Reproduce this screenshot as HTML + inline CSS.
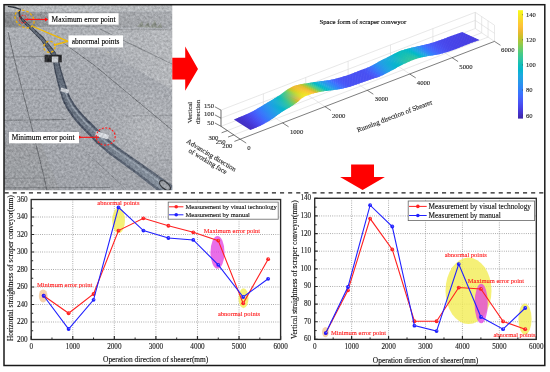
<!DOCTYPE html><html><head><meta charset="utf-8"><title>Scraper conveyor</title><style>html,body{margin:0;padding:0;background:#fff;}svg{display:block;}</style></head><body><svg width="550" height="372" viewBox="0 0 550 372" style="font-family:'Liberation Serif','Times New Roman',serif">
<rect width="550" height="372" fill="#fff"/>
<g>
<defs>
<clipPath id="pc"><rect x="4" y="4" width="168.3" height="186.3"/></clipPath>
<linearGradient id="pg" x1="0" y1="0" x2="0" y2="1"><stop offset="0" stop-color="#b3b6bb"/><stop offset="0.1" stop-color="#acafb4"/><stop offset="0.35" stop-color="#a6a9af"/><stop offset="1" stop-color="#a0a3a9"/></linearGradient>
<filter id="nz" x="0" y="0" width="100%" height="100%" color-interpolation-filters="sRGB"><feTurbulence type="fractalNoise" baseFrequency="0.42" numOctaves="3" seed="7" result="t"/><feColorMatrix in="t" type="matrix" values="1 0 0 0 0  1 0 0 0 0  1 0 0 0 0  0 0 0 0 1" result="g"/><feComposite in="SourceGraphic" in2="g" operator="arithmetic" k1="0" k2="1" k3="0.26" k4="-0.13"/></filter>
</defs>
<g clip-path="url(#pc)">
<g filter="url(#nz)">
<rect x="4" y="4" width="168.3" height="187" fill="url(#pg)"/>
<defs><linearGradient id="band1" x1="0" y1="0" x2="1" y2="0"><stop offset="0" stop-color="#86888b" stop-opacity="0.9"/><stop offset="0.45" stop-color="#8e9093" stop-opacity="0.6"/><stop offset="1" stop-color="#9a9c9f" stop-opacity="0.3"/></linearGradient><linearGradient id="rlt" x1="0" y1="0" x2="1" y2="0"><stop offset="0" stop-color="#b8babd" stop-opacity="0"/><stop offset="1" stop-color="#bcbec1" stop-opacity="0.7"/></linearGradient></defs>
<rect x="4" y="4" width="168.3" height="7" fill="#b9bbbe" opacity="0.8"/>
<path d="M4,12 H172.3 V27 H4 Z" fill="url(#band1)"/>
<path d="M4,20 H40 L36,28 H4 Z" fill="#7e8083" opacity="0.35"/>
<path d="M60,29 H172.3 V90 L120,60 Z" fill="url(#rlt)"/>
<path d="M4,140 L4,191 H60 L40,140 Z" fill="#97999c" opacity="0.5"/>
<defs><radialGradient id="lr" cx="150" cy="130" r="50" gradientUnits="userSpaceOnUse"><stop offset="0" stop-color="#c0c2c5" stop-opacity="0.55"/><stop offset="1" stop-color="#c0c2c5" stop-opacity="0"/></radialGradient></defs>
<rect x="90" y="75" width="83" height="117" fill="url(#lr)"/>
<polyline points="8,32 17,70 30,120 44,177 47,191" fill="none" stroke="#55585c" stroke-width="0.8" opacity="0.9"/>
<polyline points="4,57 48,56.5" fill="none" stroke="#55585c" stroke-width="0.8" opacity="0.5"/>
<polyline points="4,90 52,89.5" fill="none" stroke="#55585c" stroke-width="0.8" opacity="0.35"/>
<polyline points="4,120.3 66,119.5" fill="none" stroke="#55585c" stroke-width="0.8" opacity="0.7"/>
<polyline points="4,178.5 50,178" fill="none" stroke="#55585c" stroke-width="0.8" opacity="0.35"/>
<polyline points="62,42 95,65.8 172,130" fill="none" stroke="#55585c" stroke-width="0.8" opacity="0.85"/>
<polyline points="123,116 172,115.5" fill="none" stroke="#55585c" stroke-width="0.8" opacity="0.3"/>
<polyline points="100,29 123,40.3 173,64.5" fill="none" stroke="#55585c" stroke-width="0.8" opacity="0.6"/>
<polyline points="118,29.6 172,29.8" fill="none" stroke="#55585c" stroke-width="0.8" opacity="0.4"/>
<polyline points="88,154 126,189" fill="none" stroke="#55585c" stroke-width="0.8" opacity="0.45"/>
<polyline points="4,187.8 110,187.5" fill="none" stroke="#55585c" stroke-width="0.8" opacity="0.6"/>
<path d="M137,27 L142,21 L144,27 L148,22 L150,27 L155,20 L157,27 L161,23 L162,28 Z" fill="#6d7560" opacity="0.45"/>
<defs><linearGradient id="cvg" gradientUnits="userSpaceOnUse" x1="10" y1="5" x2="165" y2="190"><stop offset="0" stop-color="#2f343c"/><stop offset="0.3" stop-color="#3e4654"/><stop offset="0.6" stop-color="#4d5666"/><stop offset="1" stop-color="#5f6876"/></linearGradient><linearGradient id="cvh" gradientUnits="userSpaceOnUse" x1="10" y1="5" x2="165" y2="190"><stop offset="0" stop-color="#5a6270"/><stop offset="0.4" stop-color="#6a7482"/><stop offset="1" stop-color="#8c96a2"/></linearGradient></defs>
<polygon points="7.7,6.9 13.8,7.9 19.9,9.8 18.3,12.9 18.9,16.6 21.3,20.4 26.0,25.5 30.9,30.2 40.5,40.1 46.6,48.2 50.7,54.3 52.9,60.8 54.5,70.8 56.9,81.0 59.7,91.2 62.6,100.7 67.1,109.5 72.7,117.5 78.8,125.0 85.9,132.2 96.3,142.9 108.6,153.8 124.7,165.6 136.6,174.2 148.3,183.4 162.2,194.3 171.3,200.6 178.7,189.4 169.8,183.7 155.7,173.6 143.4,164.8 131.3,156.4 115.4,145.2 103.7,135.1 93.3,124.8 86.2,118.0 80.3,111.5 74.9,104.5 70.4,97.3 67.3,88.8 64.1,79.0 61.1,69.2 58.7,59.2 55.3,51.7 50.2,45.4 43.5,37.3 33.1,27.8 28.0,23.5 23.1,18.8 20.7,15.8 20.1,13.1 21.1,8.8 14.2,6.5 7.9,5.7" fill="url(#cvg)"/>
<polygon points="21.7,20.1 26.4,25.1 31.3,29.7 41.1,39.5 47.3,47.6 51.6,53.8 54.1,60.5 55.8,70.5 58.3,80.6 61.2,90.7 64.1,100.0 68.7,108.5 74.2,116.3 80.3,123.6 87.4,130.7 97.8,141.4 110.0,152.1 126.0,163.7 137.9,172.3 149.8,181.4 163.7,192.2 172.8,198.4 177.2,191.6 168.3,185.8 154.2,175.6 142.1,166.7 130.0,158.3 114.0,146.9 102.2,136.6 91.8,126.3 84.7,119.4 78.8,112.7 73.3,105.5 68.9,98.0 65.8,89.3 62.7,79.4 59.8,69.5 57.5,59.5 54.4,52.2 49.5,46.0 42.9,37.9 32.7,28.3 27.6,23.9 22.7,19.1" fill="url(#cvh)" opacity="0.9"/>
<polyline points="64.6,89.6 67.7,98.5 72.2,106.3 77.7,113.6 83.6,120.5 90.7,127.4 101.1,137.8 113.0,148.2 129.0,159.6 141.0,168.1 153.1,177.0 167.1,187.4 176.1,193.3" fill="none" stroke="#a3adb8" stroke-width="1.4" opacity="0.7"/>
<rect x="44.6" y="54.7" width="17.2" height="7.6" fill="#2b2c2f"/>
<rect x="51.8" y="56.5" width="6.5" height="6" fill="#c4c8cd" transform="rotate(0 55.05 59.5)"/>
<rect x="60.5" y="88.5" width="8.5" height="4" fill="#c8ccd2" transform="rotate(15 64.75 90.5)"/>
<rect x="95.5" y="133" width="13" height="4.5" fill="#d4d8dd" transform="rotate(18 102.0 135.25)"/>
<ellipse cx="165" cy="185.5" rx="3.2" ry="6.5" fill="#9a9ea4" stroke="#3a3d42" stroke-width="1.2" transform="rotate(-50 165 185.5)"/>
</g>
</g>
<ellipse cx="24.5" cy="19" rx="10.5" ry="7.8" fill="none" stroke="#f2b200" stroke-width="1.2" stroke-dasharray="2.6 1.8" transform="rotate(38 24.5 19)"/>
<ellipse cx="49.5" cy="46.8" rx="5.6" ry="5.6" fill="none" stroke="#f2b200" stroke-width="1.2" stroke-dasharray="2.6 1.8"/>
<circle cx="23.4" cy="19.2" r="3.9" fill="none" stroke="#ff2020" stroke-width="1" stroke-dasharray="1.8 1.4"/>
<ellipse cx="105.7" cy="136.5" rx="9.5" ry="8.6" fill="none" stroke="#ff2020" stroke-width="1.1" stroke-dasharray="2 1.5"/>
<polyline points="33,26.5 68,41.4" fill="none" stroke="#f4bb00" stroke-width="1.3"/>
<polyline points="54,45 68,41.4" fill="none" stroke="#f4bb00" stroke-width="1.3"/>
<line x1="24.5" y1="19.4" x2="46" y2="19.4" stroke="#ff1010" stroke-width="1.1"/>
<polygon points="48.3,19.4 45,17.4 45,21.4" fill="#ff1010"/>
<line x1="78.5" y1="137.3" x2="99" y2="137.3" stroke="#ff1010" stroke-width="1.1"/>
<circle cx="79.5" cy="137.3" r="1.2" fill="#ff1010"/>
<rect x="48.5" y="13.2" width="70.1" height="11.4" fill="#fff"/>
<text x="83.60" y="19.40" font-size="7.4" fill="#000" stroke="#000" stroke-width="0.12" text-anchor="middle" dominant-baseline="central">Maximum error point</text>
<rect x="68.5" y="35.4" width="54.5" height="12" fill="#fff"/>
<text x="95.60" y="41.40" font-size="7.4" fill="#000" stroke="#000" stroke-width="0.12" text-anchor="middle" dominant-baseline="central">abnormal points</text>
<rect x="9" y="132" width="70" height="11.3" fill="#fff"/>
<text x="43.10" y="137.30" font-size="7.4" fill="#000" stroke="#000" stroke-width="0.12" text-anchor="middle" dominant-baseline="central">Minimum error point</text>
<path d="M233.80,134.90 L488.08,37.10 M227.40,130.60 L481.68,32.80 M221.00,126.30 L475.28,28.50 M240.20,139.20 L221.00,126.30 M282.58,122.90 L263.38,110.00 M324.96,106.60 L305.76,93.70 M367.34,90.30 L348.14,77.40 M409.72,74.00 L390.52,61.10 M452.10,57.70 L432.90,44.80 M494.48,41.40 L475.28,28.50 M221.00,118.20 L475.28,20.40 M221.00,110.10 L475.28,12.30 M221.00,126.30 L221.00,110.10 M263.38,110.00 L263.38,93.80 M305.76,93.70 L305.76,77.50 M348.14,77.40 L348.14,61.20 M390.52,61.10 L390.52,44.90 M432.90,44.80 L432.90,28.60 M475.28,28.50 L475.28,12.30 M494.48,33.30 L475.28,20.40 M494.48,25.20 L475.28,12.30 M494.48,41.40 L494.48,25.20 M488.08,37.10 L488.08,20.90 M481.68,32.80 L481.68,16.60 M475.28,28.50 L475.28,12.30" stroke="#d9d9d9" stroke-width="0.6" fill="none"/>
<defs>
<linearGradient id="s0" gradientUnits="userSpaceOnUse" x1="251.55" y1="129.44" x2="234.94" y2="119.13"><stop offset="0" stop-color="#412ebe"/><stop offset="1" stop-color="#4331c8"/></linearGradient>
<linearGradient id="s1" gradientUnits="userSpaceOnUse" x1="252.98" y1="128.87" x2="236.37" y2="118.54"><stop offset="0" stop-color="#4331c6"/><stop offset="1" stop-color="#4331c8"/></linearGradient>
<linearGradient id="s2" gradientUnits="userSpaceOnUse" x1="254.41" y1="128.29" x2="237.80" y2="117.94"><stop offset="0" stop-color="#4433cd"/><stop offset="1" stop-color="#4331c8"/></linearGradient>
<linearGradient id="s3" gradientUnits="userSpaceOnUse" x1="255.84" y1="127.70" x2="239.23" y2="117.35"><stop offset="0" stop-color="#4536d5"/><stop offset="1" stop-color="#4433cc"/></linearGradient>
<linearGradient id="s4" gradientUnits="userSpaceOnUse" x1="257.27" y1="127.10" x2="240.66" y2="116.75"><stop offset="0" stop-color="#463bdd"/><stop offset="1" stop-color="#4535d2"/></linearGradient>
<linearGradient id="s5" gradientUnits="userSpaceOnUse" x1="258.70" y1="126.46" x2="242.09" y2="116.15"><stop offset="0" stop-color="#4741e5"/><stop offset="1" stop-color="#4538d7"/></linearGradient>
<linearGradient id="s6" gradientUnits="userSpaceOnUse" x1="260.14" y1="125.77" x2="243.52" y2="115.55"><stop offset="0" stop-color="#4747eb"/><stop offset="1" stop-color="#463bdc"/></linearGradient>
<linearGradient id="s7" gradientUnits="userSpaceOnUse" x1="261.57" y1="125.05" x2="244.95" y2="114.93"><stop offset="0" stop-color="#484df1"/><stop offset="1" stop-color="#473ee2"/></linearGradient>
<linearGradient id="s8" gradientUnits="userSpaceOnUse" x1="263.00" y1="124.29" x2="246.38" y2="114.32"><stop offset="0" stop-color="#4855f6"/><stop offset="1" stop-color="#4743e7"/></linearGradient>
<linearGradient id="s9" gradientUnits="userSpaceOnUse" x1="264.43" y1="123.51" x2="247.81" y2="113.69"><stop offset="0" stop-color="#475cfa"/><stop offset="1" stop-color="#4848ec"/></linearGradient>
<linearGradient id="s10" gradientUnits="userSpaceOnUse" x1="265.86" y1="122.72" x2="249.24" y2="113.05"><stop offset="0" stop-color="#4563fd"/><stop offset="1" stop-color="#484df1"/></linearGradient>
<linearGradient id="s11" gradientUnits="userSpaceOnUse" x1="267.30" y1="121.91" x2="250.67" y2="112.38"><stop offset="0" stop-color="#416cfe"/><stop offset="1" stop-color="#4853f5"/></linearGradient>
<linearGradient id="s12" gradientUnits="userSpaceOnUse" x1="268.73" y1="121.09" x2="252.10" y2="111.67"><stop offset="0" stop-color="#3975ff"/><stop offset="1" stop-color="#4759f8"/></linearGradient>
<linearGradient id="s13" gradientUnits="userSpaceOnUse" x1="270.16" y1="120.23" x2="253.53" y2="110.91"><stop offset="0" stop-color="#307efc"/><stop offset="1" stop-color="#465ffb"/></linearGradient>
<linearGradient id="s14" gradientUnits="userSpaceOnUse" x1="271.59" y1="119.32" x2="254.95" y2="110.10"><stop offset="0" stop-color="#2e85f8"/><stop offset="1" stop-color="#4466fd"/></linearGradient>
<linearGradient id="s15" gradientUnits="userSpaceOnUse" x1="273.02" y1="118.34" x2="256.38" y2="109.26"><stop offset="0" stop-color="#2d8cf3"/><stop offset="1" stop-color="#406dfe"/></linearGradient>
<linearGradient id="s16" gradientUnits="userSpaceOnUse" x1="274.46" y1="117.32" x2="257.81" y2="108.41"><stop offset="0" stop-color="#2a92ee"/><stop offset="1" stop-color="#3a74ff"/></linearGradient>
<linearGradient id="s17" gradientUnits="userSpaceOnUse" x1="275.89" y1="116.27" x2="259.24" y2="107.55"><stop offset="0" stop-color="#2698ea"/><stop offset="1" stop-color="#337bfc"/></linearGradient>
<linearGradient id="s18" gradientUnits="userSpaceOnUse" x1="277.32" y1="115.20" x2="260.67" y2="106.69"><stop offset="0" stop-color="#249ee6"/><stop offset="1" stop-color="#2f81fa"/></linearGradient>
<linearGradient id="s19" gradientUnits="userSpaceOnUse" x1="278.75" y1="114.14" x2="262.10" y2="105.83"><stop offset="0" stop-color="#20a4e3"/><stop offset="1" stop-color="#2e87f7"/></linearGradient>
<linearGradient id="s20" gradientUnits="userSpaceOnUse" x1="280.18" y1="113.12" x2="263.53" y2="104.97"><stop offset="0" stop-color="#1caadf"/><stop offset="1" stop-color="#2d8cf3"/></linearGradient>
<linearGradient id="s21" gradientUnits="userSpaceOnUse" x1="281.61" y1="112.13" x2="264.96" y2="104.11"><stop offset="0" stop-color="#16afd9"/><stop offset="1" stop-color="#2b91ef"/></linearGradient>
<linearGradient id="s22" gradientUnits="userSpaceOnUse" x1="283.05" y1="111.21" x2="266.39" y2="103.26"><stop offset="0" stop-color="#0bb3d2"/><stop offset="1" stop-color="#2797eb"/></linearGradient>
<linearGradient id="s23" gradientUnits="userSpaceOnUse" x1="284.48" y1="110.33" x2="267.82" y2="102.41"><stop offset="0" stop-color="#01b7ca"/><stop offset="1" stop-color="#259ce7"/></linearGradient>
<linearGradient id="s24" gradientUnits="userSpaceOnUse" x1="285.91" y1="109.49" x2="269.25" y2="101.56"><stop offset="0" stop-color="#03bbc2"/><stop offset="1" stop-color="#23a0e5"/></linearGradient>
<linearGradient id="s25" gradientUnits="userSpaceOnUse" x1="287.34" y1="108.66" x2="270.68" y2="100.70"><stop offset="0" stop-color="#15bfb8"/><stop offset="1" stop-color="#1fa5e2"/></linearGradient>
<linearGradient id="s26" gradientUnits="userSpaceOnUse" x1="288.77" y1="107.83" x2="272.11" y2="99.85"><stop offset="0" stop-color="#25c2ad"/><stop offset="1" stop-color="#1caadf"/></linearGradient>
<linearGradient id="s27" gradientUnits="userSpaceOnUse" x1="290.21" y1="106.99" x2="273.54" y2="99.00"><stop offset="0" stop-color="#2fc5a2"/><stop offset="1" stop-color="#17aeda"/></linearGradient>
<linearGradient id="s28" gradientUnits="userSpaceOnUse" x1="291.64" y1="106.14" x2="274.97" y2="98.14"><stop offset="0" stop-color="#3cc992"/><stop offset="1" stop-color="#0eb2d4"/></linearGradient>
<linearGradient id="s29" gradientUnits="userSpaceOnUse" x1="293.07" y1="105.25" x2="276.40" y2="97.27"><stop offset="0" stop-color="#53cc7d"/><stop offset="1" stop-color="#03b6cd"/></linearGradient>
<linearGradient id="s30" gradientUnits="userSpaceOnUse" x1="294.50" y1="104.29" x2="277.82" y2="96.36"><stop offset="0" stop-color="#6fcd66"/><stop offset="1" stop-color="#01bac5"/></linearGradient>
<linearGradient id="s31" gradientUnits="userSpaceOnUse" x1="295.93" y1="103.25" x2="279.25" y2="95.42"><stop offset="0" stop-color="#93ca4b"/><stop offset="1" stop-color="#0ebebb"/></linearGradient>
<linearGradient id="s32" gradientUnits="userSpaceOnUse" x1="297.37" y1="102.10" x2="280.68" y2="94.44"><stop offset="0" stop-color="#b5c533"/><stop offset="1" stop-color="#23c1af"/></linearGradient>
<linearGradient id="s33" gradientUnits="userSpaceOnUse" x1="298.80" y1="100.86" x2="282.11" y2="93.41"><stop offset="0" stop-color="#ddbd29"/><stop offset="1" stop-color="#30c5a2"/></linearGradient>
<linearGradient id="s34" gradientUnits="userSpaceOnUse" x1="300.23" y1="99.60" x2="283.54" y2="92.37"><stop offset="0" stop-color="#fcbc3e"/><stop offset="1" stop-color="#3bc992"/></linearGradient>
<linearGradient id="s35" gradientUnits="userSpaceOnUse" x1="301.66" y1="98.41" x2="284.97" y2="91.33"><stop offset="0" stop-color="#fdcc32"/><stop offset="1" stop-color="#52cc7e"/></linearGradient>
<linearGradient id="s36" gradientUnits="userSpaceOnUse" x1="303.09" y1="97.38" x2="286.40" y2="90.32"><stop offset="0" stop-color="#f6de29"/><stop offset="1" stop-color="#74cd62"/></linearGradient>
<linearGradient id="s37" gradientUnits="userSpaceOnUse" x1="304.52" y1="96.55" x2="287.83" y2="89.35"><stop offset="0" stop-color="#f5e626"/><stop offset="1" stop-color="#9ec942"/></linearGradient>
<linearGradient id="s38" gradientUnits="userSpaceOnUse" x1="305.96" y1="95.87" x2="289.26" y2="88.45"><stop offset="0" stop-color="#f5ea24"/><stop offset="1" stop-color="#c0c32d"/></linearGradient>
<linearGradient id="s39" gradientUnits="userSpaceOnUse" x1="307.39" y1="95.32" x2="290.69" y2="87.62"><stop offset="0" stop-color="#f5e825"/><stop offset="1" stop-color="#dabd28"/></linearGradient>
<linearGradient id="s40" gradientUnits="userSpaceOnUse" x1="308.82" y1="94.83" x2="292.12" y2="86.88"><stop offset="0" stop-color="#f5e327"/><stop offset="1" stop-color="#e9bb2f"/></linearGradient>
<linearGradient id="s41" gradientUnits="userSpaceOnUse" x1="310.25" y1="94.38" x2="293.55" y2="86.24"><stop offset="0" stop-color="#f6de29"/><stop offset="1" stop-color="#eeba34"/></linearGradient>
<linearGradient id="s42" gradientUnits="userSpaceOnUse" x1="311.68" y1="93.95" x2="294.98" y2="85.71"><stop offset="0" stop-color="#fbd32e"/><stop offset="1" stop-color="#efba35"/></linearGradient>
<linearGradient id="s43" gradientUnits="userSpaceOnUse" x1="313.12" y1="93.54" x2="296.41" y2="85.27"><stop offset="0" stop-color="#fec835"/><stop offset="1" stop-color="#e9ba2f"/></linearGradient>
<linearGradient id="s44" gradientUnits="userSpaceOnUse" x1="314.55" y1="93.15" x2="297.84" y2="84.91"><stop offset="0" stop-color="#febd3d"/><stop offset="1" stop-color="#e3bc2b"/></linearGradient>
<linearGradient id="s45" gradientUnits="userSpaceOnUse" x1="315.98" y1="92.79" x2="299.27" y2="84.59"><stop offset="0" stop-color="#e9bb2f"/><stop offset="1" stop-color="#d7be28"/></linearGradient>
<linearGradient id="s46" gradientUnits="userSpaceOnUse" x1="317.41" y1="92.44" x2="300.69" y2="84.31"><stop offset="0" stop-color="#cdc028"/><stop offset="1" stop-color="#c6c22a"/></linearGradient>
<linearGradient id="s47" gradientUnits="userSpaceOnUse" x1="318.84" y1="92.13" x2="302.12" y2="84.05"><stop offset="0" stop-color="#acc738"/><stop offset="1" stop-color="#b2c534"/></linearGradient>
<linearGradient id="s48" gradientUnits="userSpaceOnUse" x1="320.28" y1="91.83" x2="303.55" y2="83.80"><stop offset="0" stop-color="#87cb54"/><stop offset="1" stop-color="#97ca48"/></linearGradient>
<linearGradient id="s49" gradientUnits="userSpaceOnUse" x1="321.71" y1="91.57" x2="304.98" y2="83.56"><stop offset="0" stop-color="#61cd71"/><stop offset="1" stop-color="#77cc5f"/></linearGradient>
<linearGradient id="s50" gradientUnits="userSpaceOnUse" x1="323.14" y1="91.34" x2="306.41" y2="83.33"><stop offset="0" stop-color="#44cb8a"/><stop offset="1" stop-color="#5acc77"/></linearGradient>
<linearGradient id="s51" gradientUnits="userSpaceOnUse" x1="324.57" y1="91.13" x2="307.84" y2="83.11"><stop offset="0" stop-color="#33c79c"/><stop offset="1" stop-color="#40ca8d"/></linearGradient>
<linearGradient id="s52" gradientUnits="userSpaceOnUse" x1="326.00" y1="90.95" x2="309.27" y2="82.89"><stop offset="0" stop-color="#27c2ac"/><stop offset="1" stop-color="#31c6a0"/></linearGradient>
<linearGradient id="s53" gradientUnits="userSpaceOnUse" x1="327.43" y1="90.78" x2="310.70" y2="82.68"><stop offset="0" stop-color="#13beb9"/><stop offset="1" stop-color="#23c1af"/></linearGradient>
<linearGradient id="s54" gradientUnits="userSpaceOnUse" x1="328.87" y1="90.61" x2="312.13" y2="82.46"><stop offset="0" stop-color="#02bac3"/><stop offset="1" stop-color="#0ebdbb"/></linearGradient>
<linearGradient id="s55" gradientUnits="userSpaceOnUse" x1="330.30" y1="90.44" x2="313.56" y2="82.25"><stop offset="0" stop-color="#04b6cd"/><stop offset="1" stop-color="#00b9c7"/></linearGradient>
<linearGradient id="s56" gradientUnits="userSpaceOnUse" x1="331.73" y1="90.27" x2="314.99" y2="82.05"><stop offset="0" stop-color="#13b0d7"/><stop offset="1" stop-color="#08b4d0"/></linearGradient>
<linearGradient id="s57" gradientUnits="userSpaceOnUse" x1="333.16" y1="90.09" x2="316.42" y2="81.84"><stop offset="0" stop-color="#1caadf"/><stop offset="1" stop-color="#14b0d8"/></linearGradient>
<linearGradient id="s58" gradientUnits="userSpaceOnUse" x1="334.59" y1="89.90" x2="317.85" y2="81.64"><stop offset="0" stop-color="#22a2e4"/><stop offset="1" stop-color="#1babde"/></linearGradient>
<linearGradient id="s59" gradientUnits="userSpaceOnUse" x1="336.03" y1="89.71" x2="319.28" y2="81.44"><stop offset="0" stop-color="#269ae8"/><stop offset="1" stop-color="#20a5e2"/></linearGradient>
<linearGradient id="s60" gradientUnits="userSpaceOnUse" x1="337.46" y1="89.50" x2="320.71" y2="81.25"><stop offset="0" stop-color="#2b92ee"/><stop offset="1" stop-color="#249fe6"/></linearGradient>
<linearGradient id="s61" gradientUnits="userSpaceOnUse" x1="338.89" y1="89.28" x2="322.14" y2="81.06"><stop offset="0" stop-color="#2d89f5"/><stop offset="1" stop-color="#2698ea"/></linearGradient>
<linearGradient id="s62" gradientUnits="userSpaceOnUse" x1="340.32" y1="89.02" x2="323.56" y2="80.88"><stop offset="0" stop-color="#2f80fb"/><stop offset="1" stop-color="#2b91ef"/></linearGradient>
<linearGradient id="s63" gradientUnits="userSpaceOnUse" x1="341.75" y1="88.74" x2="324.99" y2="80.70"><stop offset="0" stop-color="#3578fd"/><stop offset="1" stop-color="#2d8af5"/></linearGradient>
<linearGradient id="s64" gradientUnits="userSpaceOnUse" x1="343.19" y1="88.43" x2="326.42" y2="80.52"><stop offset="0" stop-color="#3d70ff"/><stop offset="1" stop-color="#2e83f9"/></linearGradient>
<linearGradient id="s65" gradientUnits="userSpaceOnUse" x1="344.62" y1="88.10" x2="327.85" y2="80.32"><stop offset="0" stop-color="#4269fe"/><stop offset="1" stop-color="#337bfd"/></linearGradient>
<linearGradient id="s66" gradientUnits="userSpaceOnUse" x1="346.05" y1="87.75" x2="329.28" y2="80.09"><stop offset="0" stop-color="#4562fc"/><stop offset="1" stop-color="#3a73ff"/></linearGradient>
<linearGradient id="s67" gradientUnits="userSpaceOnUse" x1="347.48" y1="87.37" x2="330.71" y2="79.82"><stop offset="0" stop-color="#475cfa"/><stop offset="1" stop-color="#406dfe"/></linearGradient>
<linearGradient id="s68" gradientUnits="userSpaceOnUse" x1="348.91" y1="86.97" x2="332.14" y2="79.52"><stop offset="0" stop-color="#4756f7"/><stop offset="1" stop-color="#4367fd"/></linearGradient>
<linearGradient id="s69" gradientUnits="userSpaceOnUse" x1="350.34" y1="86.53" x2="333.57" y2="79.19"><stop offset="0" stop-color="#4850f3"/><stop offset="1" stop-color="#4561fc"/></linearGradient>
<linearGradient id="s70" gradientUnits="userSpaceOnUse" x1="351.78" y1="86.06" x2="335.00" y2="78.84"><stop offset="0" stop-color="#4850f3"/><stop offset="1" stop-color="#475cfa"/></linearGradient>
<linearGradient id="s71" gradientUnits="userSpaceOnUse" x1="353.21" y1="85.57" x2="336.43" y2="78.48"><stop offset="0" stop-color="#4850f3"/><stop offset="1" stop-color="#4758f8"/></linearGradient>
<linearGradient id="s72" gradientUnits="userSpaceOnUse" x1="354.64" y1="85.07" x2="337.86" y2="78.11"><stop offset="0" stop-color="#4850f2"/><stop offset="1" stop-color="#4853f5"/></linearGradient>
<linearGradient id="s73" gradientUnits="userSpaceOnUse" x1="356.07" y1="84.57" x2="339.29" y2="77.73"><stop offset="0" stop-color="#4850f2"/><stop offset="1" stop-color="#4851f3"/></linearGradient>
<linearGradient id="s74" gradientUnits="userSpaceOnUse" x1="357.50" y1="84.06" x2="340.72" y2="77.32"><stop offset="0" stop-color="#484ff2"/><stop offset="1" stop-color="#4851f3"/></linearGradient>
<linearGradient id="s75" gradientUnits="userSpaceOnUse" x1="358.94" y1="83.55" x2="342.15" y2="76.90"><stop offset="0" stop-color="#484ff2"/><stop offset="1" stop-color="#4851f3"/></linearGradient>
<linearGradient id="s76" gradientUnits="userSpaceOnUse" x1="360.37" y1="83.05" x2="343.58" y2="76.47"><stop offset="0" stop-color="#484ff2"/><stop offset="1" stop-color="#4850f3"/></linearGradient>
<linearGradient id="s77" gradientUnits="userSpaceOnUse" x1="361.80" y1="82.55" x2="345.01" y2="76.02"><stop offset="0" stop-color="#484ff2"/><stop offset="1" stop-color="#4850f3"/></linearGradient>
<linearGradient id="s78" gradientUnits="userSpaceOnUse" x1="363.23" y1="82.05" x2="346.43" y2="75.55"><stop offset="0" stop-color="#484ff2"/><stop offset="1" stop-color="#4850f3"/></linearGradient>
<linearGradient id="s79" gradientUnits="userSpaceOnUse" x1="364.66" y1="81.55" x2="347.86" y2="75.08"><stop offset="0" stop-color="#484ff2"/><stop offset="1" stop-color="#4850f3"/></linearGradient>
<linearGradient id="s80" gradientUnits="userSpaceOnUse" x1="366.10" y1="81.05" x2="349.29" y2="74.58"><stop offset="0" stop-color="#484ff2"/><stop offset="1" stop-color="#4850f3"/></linearGradient>
<linearGradient id="s81" gradientUnits="userSpaceOnUse" x1="367.53" y1="80.55" x2="350.72" y2="74.06"><stop offset="0" stop-color="#484ff2"/><stop offset="1" stop-color="#4850f3"/></linearGradient>
<linearGradient id="s82" gradientUnits="userSpaceOnUse" x1="368.96" y1="80.06" x2="352.15" y2="73.52"><stop offset="0" stop-color="#484ff2"/><stop offset="1" stop-color="#4850f3"/></linearGradient>
<linearGradient id="s83" gradientUnits="userSpaceOnUse" x1="370.39" y1="79.58" x2="353.58" y2="72.97"><stop offset="0" stop-color="#484ef1"/><stop offset="1" stop-color="#4850f2"/></linearGradient>
<linearGradient id="s84" gradientUnits="userSpaceOnUse" x1="371.82" y1="79.11" x2="355.01" y2="72.41"><stop offset="0" stop-color="#484ef1"/><stop offset="1" stop-color="#4850f2"/></linearGradient>
<linearGradient id="s85" gradientUnits="userSpaceOnUse" x1="373.25" y1="78.65" x2="356.44" y2="71.85"><stop offset="0" stop-color="#484ef1"/><stop offset="1" stop-color="#4850f2"/></linearGradient>
<linearGradient id="s86" gradientUnits="userSpaceOnUse" x1="374.69" y1="78.20" x2="357.87" y2="71.30"><stop offset="0" stop-color="#484ef1"/><stop offset="1" stop-color="#4850f2"/></linearGradient>
<linearGradient id="s87" gradientUnits="userSpaceOnUse" x1="376.12" y1="77.75" x2="359.30" y2="70.74"><stop offset="0" stop-color="#4852f4"/><stop offset="1" stop-color="#484ff2"/></linearGradient>
<linearGradient id="s88" gradientUnits="userSpaceOnUse" x1="377.55" y1="77.28" x2="360.73" y2="70.19"><stop offset="0" stop-color="#4759f9"/><stop offset="1" stop-color="#484ff2"/></linearGradient>
<linearGradient id="s89" gradientUnits="userSpaceOnUse" x1="378.98" y1="76.77" x2="362.16" y2="69.65"><stop offset="0" stop-color="#4661fc"/><stop offset="1" stop-color="#484ff2"/></linearGradient>
<linearGradient id="s90" gradientUnits="userSpaceOnUse" x1="380.41" y1="76.20" x2="363.59" y2="69.12"><stop offset="0" stop-color="#4269fe"/><stop offset="1" stop-color="#4850f2"/></linearGradient>
<linearGradient id="s91" gradientUnits="userSpaceOnUse" x1="381.85" y1="75.57" x2="365.02" y2="68.59"><stop offset="0" stop-color="#3b73ff"/><stop offset="1" stop-color="#4756f7"/></linearGradient>
<linearGradient id="s92" gradientUnits="userSpaceOnUse" x1="383.28" y1="74.90" x2="366.45" y2="68.05"><stop offset="0" stop-color="#317dfc"/><stop offset="1" stop-color="#475cfa"/></linearGradient>
<linearGradient id="s93" gradientUnits="userSpaceOnUse" x1="384.71" y1="74.19" x2="367.88" y2="67.49"><stop offset="0" stop-color="#2e87f7"/><stop offset="1" stop-color="#4563fc"/></linearGradient>
<linearGradient id="s94" gradientUnits="userSpaceOnUse" x1="386.14" y1="73.46" x2="369.30" y2="66.88"><stop offset="0" stop-color="#2c90f0"/><stop offset="1" stop-color="#426afe"/></linearGradient>
<linearGradient id="s95" gradientUnits="userSpaceOnUse" x1="387.57" y1="72.72" x2="370.73" y2="66.20"><stop offset="0" stop-color="#2698ea"/><stop offset="1" stop-color="#3b72ff"/></linearGradient>
<linearGradient id="s96" gradientUnits="userSpaceOnUse" x1="389.01" y1="71.97" x2="372.16" y2="65.47"><stop offset="0" stop-color="#23a0e5"/><stop offset="1" stop-color="#337bfc"/></linearGradient>
<linearGradient id="s97" gradientUnits="userSpaceOnUse" x1="390.44" y1="71.20" x2="373.59" y2="64.69"><stop offset="0" stop-color="#1ea8e1"/><stop offset="1" stop-color="#2e83f9"/></linearGradient>
<linearGradient id="s98" gradientUnits="userSpaceOnUse" x1="391.87" y1="70.41" x2="375.02" y2="63.88"><stop offset="0" stop-color="#1babde"/><stop offset="1" stop-color="#2d8af4"/></linearGradient>
<linearGradient id="s99" gradientUnits="userSpaceOnUse" x1="393.30" y1="69.61" x2="376.45" y2="63.07"><stop offset="0" stop-color="#17aeda"/><stop offset="1" stop-color="#2b91ef"/></linearGradient>
<linearGradient id="s100" gradientUnits="userSpaceOnUse" x1="394.73" y1="68.80" x2="377.88" y2="62.26"><stop offset="0" stop-color="#12b1d6"/><stop offset="1" stop-color="#2698ea"/></linearGradient>
<linearGradient id="s101" gradientUnits="userSpaceOnUse" x1="396.16" y1="68.00" x2="379.31" y2="61.46"><stop offset="0" stop-color="#0ab4d1"/><stop offset="1" stop-color="#259de7"/></linearGradient>
<linearGradient id="s102" gradientUnits="userSpaceOnUse" x1="397.60" y1="67.20" x2="380.74" y2="60.69"><stop offset="0" stop-color="#03b6cd"/><stop offset="1" stop-color="#23a0e5"/></linearGradient>
<linearGradient id="s103" gradientUnits="userSpaceOnUse" x1="399.03" y1="66.42" x2="382.17" y2="59.94"><stop offset="0" stop-color="#00b8c8"/><stop offset="1" stop-color="#21a3e4"/></linearGradient>
<linearGradient id="s104" gradientUnits="userSpaceOnUse" x1="400.46" y1="65.67" x2="383.60" y2="59.21"><stop offset="0" stop-color="#01bac4"/><stop offset="1" stop-color="#1fa6e2"/></linearGradient>
<linearGradient id="s105" gradientUnits="userSpaceOnUse" x1="401.89" y1="64.95" x2="385.03" y2="58.49"><stop offset="0" stop-color="#06bcc0"/><stop offset="1" stop-color="#1da9e0"/></linearGradient>
<linearGradient id="s106" gradientUnits="userSpaceOnUse" x1="403.32" y1="64.25" x2="386.46" y2="57.77"><stop offset="0" stop-color="#0dbdbb"/><stop offset="1" stop-color="#1babde"/></linearGradient>
<linearGradient id="s107" gradientUnits="userSpaceOnUse" x1="404.76" y1="63.57" x2="387.89" y2="57.05"><stop offset="0" stop-color="#1bc0b4"/><stop offset="1" stop-color="#18addb"/></linearGradient>
<linearGradient id="s108" gradientUnits="userSpaceOnUse" x1="406.19" y1="62.91" x2="389.32" y2="56.33"><stop offset="0" stop-color="#26c2ad"/><stop offset="1" stop-color="#15afd9"/></linearGradient>
<linearGradient id="s109" gradientUnits="userSpaceOnUse" x1="407.62" y1="62.26" x2="390.75" y2="55.60"><stop offset="0" stop-color="#2dc4a5"/><stop offset="1" stop-color="#11b1d6"/></linearGradient>
<linearGradient id="s110" gradientUnits="userSpaceOnUse" x1="409.05" y1="61.63" x2="392.17" y2="54.86"><stop offset="0" stop-color="#31c6a0"/><stop offset="1" stop-color="#0bb4d2"/></linearGradient>
<linearGradient id="s111" gradientUnits="userSpaceOnUse" x1="410.48" y1="61.00" x2="393.60" y2="54.13"><stop offset="0" stop-color="#32c69e"/><stop offset="1" stop-color="#03b6cd"/></linearGradient>
<linearGradient id="s112" gradientUnits="userSpaceOnUse" x1="411.92" y1="60.39" x2="395.03" y2="53.39"><stop offset="0" stop-color="#33c79c"/><stop offset="1" stop-color="#00b9c7"/></linearGradient>
<linearGradient id="s113" gradientUnits="userSpaceOnUse" x1="413.35" y1="59.80" x2="396.46" y2="52.67"><stop offset="0" stop-color="#35c79b"/><stop offset="1" stop-color="#03bbc2"/></linearGradient>
<linearGradient id="s114" gradientUnits="userSpaceOnUse" x1="414.78" y1="59.26" x2="397.89" y2="51.98"><stop offset="0" stop-color="#32c69e"/><stop offset="1" stop-color="#05bcc0"/></linearGradient>
<linearGradient id="s115" gradientUnits="userSpaceOnUse" x1="416.21" y1="58.77" x2="399.32" y2="51.34"><stop offset="0" stop-color="#30c5a1"/><stop offset="1" stop-color="#06bcbf"/></linearGradient>
<linearGradient id="s116" gradientUnits="userSpaceOnUse" x1="417.64" y1="58.34" x2="400.75" y2="50.77"><stop offset="0" stop-color="#2ec4a4"/><stop offset="1" stop-color="#08bcbe"/></linearGradient>
<linearGradient id="s117" gradientUnits="userSpaceOnUse" x1="419.07" y1="57.97" x2="402.18" y2="50.27"><stop offset="0" stop-color="#28c2ab"/><stop offset="1" stop-color="#07bcbf"/></linearGradient>
<linearGradient id="s118" gradientUnits="userSpaceOnUse" x1="420.51" y1="57.63" x2="403.61" y2="49.82"><stop offset="0" stop-color="#19bfb6"/><stop offset="1" stop-color="#04bbc1"/></linearGradient>
<linearGradient id="s119" gradientUnits="userSpaceOnUse" x1="421.94" y1="57.31" x2="405.04" y2="49.40"><stop offset="0" stop-color="#06bcc0"/><stop offset="1" stop-color="#02bac3"/></linearGradient>
<linearGradient id="s120" gradientUnits="userSpaceOnUse" x1="423.37" y1="57.00" x2="406.47" y2="49.00"><stop offset="0" stop-color="#01b8c9"/><stop offset="1" stop-color="#00b9c6"/></linearGradient>
<linearGradient id="s121" gradientUnits="userSpaceOnUse" x1="424.80" y1="56.70" x2="407.90" y2="48.61"><stop offset="0" stop-color="#10b2d5"/><stop offset="1" stop-color="#04b6cd"/></linearGradient>
<linearGradient id="s122" gradientUnits="userSpaceOnUse" x1="426.23" y1="56.42" x2="409.33" y2="48.24"><stop offset="0" stop-color="#1babde"/><stop offset="1" stop-color="#0fb2d5"/></linearGradient>
<linearGradient id="s123" gradientUnits="userSpaceOnUse" x1="427.67" y1="56.16" x2="410.76" y2="47.88"><stop offset="0" stop-color="#22a2e4"/><stop offset="1" stop-color="#18aedb"/></linearGradient>
<linearGradient id="s124" gradientUnits="userSpaceOnUse" x1="429.10" y1="55.92" x2="412.19" y2="47.54"><stop offset="0" stop-color="#269ae9"/><stop offset="1" stop-color="#1ea8e1"/></linearGradient>
<linearGradient id="s125" gradientUnits="userSpaceOnUse" x1="430.53" y1="55.70" x2="413.62" y2="47.21"><stop offset="0" stop-color="#2b91ef"/><stop offset="1" stop-color="#23a1e5"/></linearGradient>
<linearGradient id="s126" gradientUnits="userSpaceOnUse" x1="431.96" y1="55.48" x2="415.04" y2="46.89"><stop offset="0" stop-color="#2d89f6"/><stop offset="1" stop-color="#2699e9"/></linearGradient>
<linearGradient id="s127" gradientUnits="userSpaceOnUse" x1="433.39" y1="55.26" x2="416.47" y2="46.57"><stop offset="0" stop-color="#2f80fb"/><stop offset="1" stop-color="#2b92ee"/></linearGradient>
<linearGradient id="s128" gradientUnits="userSpaceOnUse" x1="434.83" y1="55.04" x2="417.90" y2="46.26"><stop offset="0" stop-color="#3479fd"/><stop offset="1" stop-color="#2d8bf4"/></linearGradient>
<linearGradient id="s129" gradientUnits="userSpaceOnUse" x1="436.26" y1="54.80" x2="419.33" y2="45.94"><stop offset="0" stop-color="#3b73ff"/><stop offset="1" stop-color="#2e83f9"/></linearGradient>
<linearGradient id="s130" gradientUnits="userSpaceOnUse" x1="437.69" y1="54.52" x2="420.76" y2="45.62"><stop offset="0" stop-color="#406cfe"/><stop offset="1" stop-color="#327bfc"/></linearGradient>
<linearGradient id="s131" gradientUnits="userSpaceOnUse" x1="439.12" y1="54.21" x2="422.19" y2="45.29"><stop offset="0" stop-color="#4467fd"/><stop offset="1" stop-color="#3974ff"/></linearGradient>
<linearGradient id="s132" gradientUnits="userSpaceOnUse" x1="440.55" y1="53.86" x2="423.62" y2="44.97"><stop offset="0" stop-color="#4562fc"/><stop offset="1" stop-color="#3e6fff"/></linearGradient>
<linearGradient id="s133" gradientUnits="userSpaceOnUse" x1="441.98" y1="53.49" x2="425.05" y2="44.63"><stop offset="0" stop-color="#465dfa"/><stop offset="1" stop-color="#426afe"/></linearGradient>
<linearGradient id="s134" gradientUnits="userSpaceOnUse" x1="443.42" y1="53.09" x2="426.48" y2="44.30"><stop offset="0" stop-color="#4758f8"/><stop offset="1" stop-color="#4465fd"/></linearGradient>
<linearGradient id="s135" gradientUnits="userSpaceOnUse" x1="444.85" y1="52.68" x2="427.91" y2="43.95"><stop offset="0" stop-color="#4855f6"/><stop offset="1" stop-color="#4661fc"/></linearGradient>
<linearGradient id="s136" gradientUnits="userSpaceOnUse" x1="446.28" y1="52.25" x2="429.34" y2="43.58"><stop offset="0" stop-color="#4851f4"/><stop offset="1" stop-color="#465dfa"/></linearGradient>
<linearGradient id="s137" gradientUnits="userSpaceOnUse" x1="447.71" y1="51.80" x2="430.77" y2="43.19"><stop offset="0" stop-color="#484ef1"/><stop offset="1" stop-color="#4759f9"/></linearGradient>
<linearGradient id="s138" gradientUnits="userSpaceOnUse" x1="449.14" y1="51.34" x2="432.20" y2="42.77"><stop offset="0" stop-color="#484bef"/><stop offset="1" stop-color="#4756f7"/></linearGradient>
<linearGradient id="s139" gradientUnits="userSpaceOnUse" x1="450.58" y1="50.87" x2="433.63" y2="42.33"><stop offset="0" stop-color="#4848ec"/><stop offset="1" stop-color="#4853f5"/></linearGradient>
<linearGradient id="s140" gradientUnits="userSpaceOnUse" x1="452.01" y1="50.38" x2="435.06" y2="41.88"><stop offset="0" stop-color="#4746ea"/><stop offset="1" stop-color="#4850f3"/></linearGradient>
<linearGradient id="s141" gradientUnits="userSpaceOnUse" x1="453.44" y1="49.88" x2="436.49" y2="41.42"><stop offset="0" stop-color="#4744e8"/><stop offset="1" stop-color="#484df1"/></linearGradient>
<linearGradient id="s142" gradientUnits="userSpaceOnUse" x1="454.87" y1="49.36" x2="437.91" y2="40.94"><stop offset="0" stop-color="#4743e7"/><stop offset="1" stop-color="#484bef"/></linearGradient>
<linearGradient id="s143" gradientUnits="userSpaceOnUse" x1="456.30" y1="48.82" x2="439.34" y2="40.45"><stop offset="0" stop-color="#4743e7"/><stop offset="1" stop-color="#4849ed"/></linearGradient>
<linearGradient id="s144" gradientUnits="userSpaceOnUse" x1="457.74" y1="48.25" x2="440.77" y2="39.94"><stop offset="0" stop-color="#4742e6"/><stop offset="1" stop-color="#4848ec"/></linearGradient>
<linearGradient id="s145" gradientUnits="userSpaceOnUse" x1="459.17" y1="47.68" x2="442.20" y2="39.42"><stop offset="0" stop-color="#4742e6"/><stop offset="1" stop-color="#4746eb"/></linearGradient>
<linearGradient id="s146" gradientUnits="userSpaceOnUse" x1="460.60" y1="47.10" x2="443.63" y2="38.87"><stop offset="0" stop-color="#4741e5"/><stop offset="1" stop-color="#4746ea"/></linearGradient>
<linearGradient id="s147" gradientUnits="userSpaceOnUse" x1="462.03" y1="46.52" x2="445.06" y2="38.32"><stop offset="0" stop-color="#4741e5"/><stop offset="1" stop-color="#4746ea"/></linearGradient>
<linearGradient id="s148" gradientUnits="userSpaceOnUse" x1="463.46" y1="45.94" x2="446.49" y2="37.76"><stop offset="0" stop-color="#4741e4"/><stop offset="1" stop-color="#4745ea"/></linearGradient>
<linearGradient id="s149" gradientUnits="userSpaceOnUse" x1="464.89" y1="45.37" x2="447.92" y2="37.21"><stop offset="0" stop-color="#4740e4"/><stop offset="1" stop-color="#4745e9"/></linearGradient>
<linearGradient id="s150" gradientUnits="userSpaceOnUse" x1="466.33" y1="44.81" x2="449.35" y2="36.67"><stop offset="0" stop-color="#4740e3"/><stop offset="1" stop-color="#4745e9"/></linearGradient>
<linearGradient id="s151" gradientUnits="userSpaceOnUse" x1="467.76" y1="44.25" x2="450.78" y2="36.14"><stop offset="0" stop-color="#473fe3"/><stop offset="1" stop-color="#4744e8"/></linearGradient>
<linearGradient id="s152" gradientUnits="userSpaceOnUse" x1="469.19" y1="43.70" x2="452.21" y2="35.62"><stop offset="0" stop-color="#473fe2"/><stop offset="1" stop-color="#4744e8"/></linearGradient>
<linearGradient id="s153" gradientUnits="userSpaceOnUse" x1="470.62" y1="43.16" x2="453.64" y2="35.12"><stop offset="0" stop-color="#473ee2"/><stop offset="1" stop-color="#4744e8"/></linearGradient>
<linearGradient id="s154" gradientUnits="userSpaceOnUse" x1="472.05" y1="42.63" x2="455.07" y2="34.62"><stop offset="0" stop-color="#473ee1"/><stop offset="1" stop-color="#4743e7"/></linearGradient>
<linearGradient id="s155" gradientUnits="userSpaceOnUse" x1="473.49" y1="42.11" x2="456.50" y2="34.14"><stop offset="0" stop-color="#463ee1"/><stop offset="1" stop-color="#4743e7"/></linearGradient>
<linearGradient id="s156" gradientUnits="userSpaceOnUse" x1="474.92" y1="41.60" x2="457.93" y2="33.65"><stop offset="0" stop-color="#463de0"/><stop offset="1" stop-color="#4742e7"/></linearGradient>
<linearGradient id="s157" gradientUnits="userSpaceOnUse" x1="476.35" y1="41.09" x2="459.36" y2="33.17"><stop offset="0" stop-color="#463ddf"/><stop offset="1" stop-color="#4742e6"/></linearGradient>
<linearGradient id="s158" gradientUnits="userSpaceOnUse" x1="477.78" y1="40.60" x2="460.78" y2="32.68"><stop offset="0" stop-color="#463cdf"/><stop offset="1" stop-color="#4742e6"/></linearGradient>
<linearGradient id="s159" gradientUnits="userSpaceOnUse" x1="478.78" y1="40.27" x2="461.79" y2="32.38"><stop offset="0" stop-color="#463cde"/><stop offset="1" stop-color="#4741e5"/></linearGradient>
</defs>
<path d="M250.40,129.90 L252.69,128.98 L236.09,118.65 L233.80,119.60Z" fill="url(#s0)"/>
<path d="M251.83,129.33 L254.12,128.41 L237.52,118.06 L235.23,119.01Z" fill="url(#s1)"/>
<path d="M253.26,128.75 L255.55,127.83 L238.95,117.47 L236.66,118.42Z" fill="url(#s2)"/>
<path d="M254.70,128.18 L256.99,127.23 L240.38,116.87 L238.09,117.82Z" fill="url(#s3)"/>
<path d="M256.13,127.59 L258.42,126.60 L241.80,116.27 L239.52,117.23Z" fill="url(#s4)"/>
<path d="M257.56,126.99 L259.85,125.93 L243.23,115.67 L240.95,116.63Z" fill="url(#s5)"/>
<path d="M258.99,126.34 L261.28,125.21 L244.66,115.06 L242.38,116.03Z" fill="url(#s6)"/>
<path d="M260.42,125.65 L262.71,124.45 L246.09,114.44 L243.81,115.43Z" fill="url(#s7)"/>
<path d="M261.86,124.91 L264.15,123.67 L247.52,113.82 L245.24,114.81Z" fill="url(#s8)"/>
<path d="M263.29,124.14 L265.58,122.88 L248.95,113.19 L246.66,114.19Z" fill="url(#s9)"/>
<path d="M264.72,123.35 L267.01,122.08 L250.38,112.53 L248.09,113.57Z" fill="url(#s10)"/>
<path d="M266.15,122.56 L268.44,121.27 L251.81,111.83 L249.52,112.93Z" fill="url(#s11)"/>
<path d="M267.58,121.76 L269.87,120.42 L253.24,111.08 L250.95,112.26Z" fill="url(#s12)"/>
<path d="M269.01,120.93 L271.31,119.52 L254.67,110.27 L252.38,111.54Z" fill="url(#s13)"/>
<path d="M270.45,120.07 L272.74,118.56 L256.10,109.44 L253.81,110.76Z" fill="url(#s14)"/>
<path d="M271.88,119.15 L274.17,117.54 L257.53,108.58 L255.24,109.94Z" fill="url(#s15)"/>
<path d="M273.31,118.16 L275.60,116.48 L258.96,107.72 L256.67,109.10Z" fill="url(#s16)"/>
<path d="M274.74,117.12 L277.03,115.41 L260.39,106.86 L258.10,108.24Z" fill="url(#s17)"/>
<path d="M276.17,116.06 L278.46,114.35 L261.82,106.00 L259.53,107.38Z" fill="url(#s18)"/>
<path d="M277.61,114.98 L279.90,113.30 L263.25,105.14 L260.96,106.52Z" fill="url(#s19)"/>
<path d="M279.04,113.92 L281.33,112.31 L264.67,104.28 L262.39,105.66Z" fill="url(#s20)"/>
<path d="M280.47,112.90 L282.76,111.37 L266.10,103.43 L263.82,104.80Z" fill="url(#s21)"/>
<path d="M281.90,111.92 L284.19,110.49 L267.53,102.58 L265.25,103.94Z" fill="url(#s22)"/>
<path d="M283.33,111.01 L285.62,109.65 L268.96,101.73 L266.68,103.09Z" fill="url(#s23)"/>
<path d="M284.76,110.15 L287.06,108.82 L270.39,100.87 L268.10,102.24Z" fill="url(#s24)"/>
<path d="M286.20,109.32 L288.49,108.00 L271.82,100.02 L269.53,101.39Z" fill="url(#s25)"/>
<path d="M287.63,108.49 L289.92,107.17 L273.25,99.17 L270.96,100.53Z" fill="url(#s26)"/>
<path d="M289.06,107.67 L291.35,106.32 L274.68,98.32 L272.39,99.68Z" fill="url(#s27)"/>
<path d="M290.49,106.83 L292.78,105.45 L276.11,97.45 L273.82,98.83Z" fill="url(#s28)"/>
<path d="M291.92,105.98 L294.22,104.52 L277.54,96.56 L275.25,97.97Z" fill="url(#s29)"/>
<path d="M293.36,105.08 L295.65,103.50 L278.97,95.63 L276.68,97.10Z" fill="url(#s30)"/>
<path d="M294.79,104.12 L297.08,102.37 L280.40,94.66 L278.11,96.19Z" fill="url(#s31)"/>
<path d="M296.22,103.07 L298.51,101.13 L281.83,93.63 L279.54,95.25Z" fill="url(#s32)"/>
<path d="M297.65,101.89 L299.94,99.83 L283.26,92.58 L280.97,94.25Z" fill="url(#s33)"/>
<path d="M299.08,100.61 L301.37,98.58 L284.69,91.53 L282.40,93.21Z" fill="url(#s34)"/>
<path d="M300.52,99.32 L302.81,97.51 L286.12,90.50 L283.83,92.15Z" fill="url(#s35)"/>
<path d="M301.95,98.13 L304.24,96.64 L287.54,89.53 L285.26,91.11Z" fill="url(#s36)"/>
<path d="M303.38,97.13 L305.67,95.96 L288.97,88.60 L286.69,90.11Z" fill="url(#s37)"/>
<path d="M304.81,96.35 L307.10,95.40 L290.40,87.75 L288.12,89.15Z" fill="url(#s38)"/>
<path d="M306.24,95.72 L308.53,94.91 L291.83,86.98 L289.55,88.25Z" fill="url(#s39)"/>
<path d="M307.68,95.20 L309.97,94.46 L293.26,86.33 L290.98,87.43Z" fill="url(#s40)"/>
<path d="M309.11,94.73 L311.40,94.03 L294.69,85.78 L292.40,86.71Z" fill="url(#s41)"/>
<path d="M310.54,94.28 L312.83,93.62 L296.12,85.33 L293.83,86.09Z" fill="url(#s42)"/>
<path d="M311.97,93.86 L314.26,93.22 L297.55,84.96 L295.26,85.59Z" fill="url(#s43)"/>
<path d="M313.40,93.46 L315.69,92.85 L298.98,84.65 L296.69,85.18Z" fill="url(#s44)"/>
<path d="M314.83,93.07 L317.13,92.50 L300.41,84.36 L298.12,84.83Z" fill="url(#s45)"/>
<path d="M316.27,92.71 L318.56,92.18 L301.84,84.09 L299.55,84.53Z" fill="url(#s46)"/>
<path d="M317.70,92.37 L319.99,91.88 L303.27,83.84 L300.98,84.25Z" fill="url(#s47)"/>
<path d="M319.13,92.06 L321.42,91.61 L304.70,83.60 L302.41,83.99Z" fill="url(#s48)"/>
<path d="M320.56,91.77 L322.85,91.37 L306.13,83.38 L303.84,83.75Z" fill="url(#s49)"/>
<path d="M321.99,91.51 L324.28,91.16 L307.56,83.15 L305.27,83.51Z" fill="url(#s50)"/>
<path d="M323.43,91.29 L325.72,90.98 L308.99,82.93 L306.70,83.29Z" fill="url(#s51)"/>
<path d="M324.86,91.09 L327.15,90.81 L310.41,82.72 L308.13,83.07Z" fill="url(#s52)"/>
<path d="M326.29,90.91 L328.58,90.65 L311.84,82.50 L309.56,82.85Z" fill="url(#s53)"/>
<path d="M327.72,90.75 L330.01,90.48 L313.27,82.29 L310.99,82.63Z" fill="url(#s54)"/>
<path d="M329.15,90.58 L331.44,90.30 L314.70,82.09 L312.42,82.42Z" fill="url(#s55)"/>
<path d="M330.59,90.41 L332.88,90.12 L316.13,81.88 L313.85,82.21Z" fill="url(#s56)"/>
<path d="M332.02,90.23 L334.31,89.94 L317.56,81.68 L315.27,82.00Z" fill="url(#s57)"/>
<path d="M333.45,90.05 L335.74,89.75 L318.99,81.48 L316.70,81.80Z" fill="url(#s58)"/>
<path d="M334.88,89.86 L337.17,89.55 L320.42,81.29 L318.13,81.60Z" fill="url(#s59)"/>
<path d="M336.31,89.67 L338.60,89.33 L321.85,81.10 L319.56,81.40Z" fill="url(#s60)"/>
<path d="M337.74,89.47 L340.04,89.09 L323.28,80.92 L320.99,81.21Z" fill="url(#s61)"/>
<path d="M339.18,89.24 L341.47,88.81 L324.71,80.74 L322.42,81.03Z" fill="url(#s62)"/>
<path d="M340.61,88.98 L342.90,88.50 L326.14,80.56 L323.85,80.85Z" fill="url(#s63)"/>
<path d="M342.04,88.69 L344.33,88.17 L327.57,80.37 L325.28,80.67Z" fill="url(#s64)"/>
<path d="M343.47,88.37 L345.76,87.83 L329.00,80.15 L326.71,80.48Z" fill="url(#s65)"/>
<path d="M344.90,88.03 L347.19,87.46 L330.43,79.89 L328.14,80.28Z" fill="url(#s66)"/>
<path d="M346.34,87.68 L348.63,87.06 L331.86,79.59 L329.57,80.05Z" fill="url(#s67)"/>
<path d="M347.77,87.31 L350.06,86.63 L333.28,79.27 L331.00,79.78Z" fill="url(#s68)"/>
<path d="M349.20,86.89 L351.49,86.16 L334.71,78.92 L332.43,79.47Z" fill="url(#s69)"/>
<path d="M350.63,86.45 L352.92,85.67 L336.14,78.56 L333.86,79.13Z" fill="url(#s70)"/>
<path d="M352.06,85.97 L354.35,85.17 L337.57,78.19 L335.29,78.78Z" fill="url(#s71)"/>
<path d="M353.50,85.47 L355.79,84.67 L339.00,77.81 L336.72,78.41Z" fill="url(#s72)"/>
<path d="M354.93,84.97 L357.22,84.16 L340.43,77.41 L338.14,78.04Z" fill="url(#s73)"/>
<path d="M356.36,84.46 L358.65,83.66 L341.86,76.99 L339.57,77.65Z" fill="url(#s74)"/>
<path d="M357.79,83.96 L360.08,83.15 L343.29,76.56 L341.00,77.25Z" fill="url(#s75)"/>
<path d="M359.22,83.45 L361.51,82.65 L344.72,76.11 L342.43,76.82Z" fill="url(#s76)"/>
<path d="M360.65,82.95 L362.95,82.15 L346.15,75.65 L343.86,76.38Z" fill="url(#s77)"/>
<path d="M362.09,82.45 L364.38,81.65 L347.58,75.18 L345.29,75.93Z" fill="url(#s78)"/>
<path d="M363.52,81.95 L365.81,81.15 L349.01,74.69 L346.72,75.47Z" fill="url(#s79)"/>
<path d="M364.95,81.45 L367.24,80.65 L350.44,74.17 L348.15,74.99Z" fill="url(#s80)"/>
<path d="M366.38,80.95 L368.67,80.16 L351.87,73.63 L349.58,74.48Z" fill="url(#s81)"/>
<path d="M367.81,80.45 L370.10,79.67 L353.30,73.08 L351.01,73.95Z" fill="url(#s82)"/>
<path d="M369.25,79.96 L371.54,79.20 L354.73,72.52 L352.44,73.41Z" fill="url(#s83)"/>
<path d="M370.68,79.48 L372.97,78.74 L356.15,71.96 L353.87,72.86Z" fill="url(#s84)"/>
<path d="M372.11,79.01 L374.40,78.29 L357.58,71.41 L355.30,72.30Z" fill="url(#s85)"/>
<path d="M373.54,78.56 L375.83,77.84 L359.01,70.85 L356.73,71.74Z" fill="url(#s86)"/>
<path d="M374.97,78.11 L377.26,77.39 L360.44,70.30 L358.16,71.18Z" fill="url(#s87)"/>
<path d="M376.40,77.66 L378.70,76.89 L361.87,69.76 L359.58,70.63Z" fill="url(#s88)"/>
<path d="M377.84,77.19 L380.13,76.34 L363.30,69.22 L361.01,70.08Z" fill="url(#s89)"/>
<path d="M379.27,76.68 L381.56,75.72 L364.73,68.69 L362.44,69.54Z" fill="url(#s90)"/>
<path d="M380.70,76.10 L382.99,75.05 L366.16,68.17 L363.87,69.01Z" fill="url(#s91)"/>
<path d="M382.13,75.46 L384.42,74.34 L367.59,67.62 L365.30,68.48Z" fill="url(#s92)"/>
<path d="M383.56,74.76 L385.86,73.61 L369.02,67.02 L366.73,67.95Z" fill="url(#s93)"/>
<path d="M385.00,74.05 L387.29,72.87 L370.45,66.37 L368.16,67.39Z" fill="url(#s94)"/>
<path d="M386.43,73.32 L388.72,72.12 L371.88,65.64 L369.59,66.77Z" fill="url(#s95)"/>
<path d="M387.86,72.58 L390.15,71.36 L373.31,64.86 L371.02,66.08Z" fill="url(#s96)"/>
<path d="M389.29,71.82 L391.58,70.57 L374.74,64.05 L372.45,65.33Z" fill="url(#s97)"/>
<path d="M390.72,71.05 L393.01,69.77 L376.17,63.23 L373.88,64.54Z" fill="url(#s98)"/>
<path d="M392.16,70.26 L394.45,68.96 L377.60,62.41 L375.31,63.72Z" fill="url(#s99)"/>
<path d="M393.59,69.45 L395.88,68.15 L379.02,61.61 L376.74,62.90Z" fill="url(#s100)"/>
<path d="M395.02,68.64 L397.31,67.35 L380.45,60.84 L378.17,62.09Z" fill="url(#s101)"/>
<path d="M396.45,67.83 L398.74,66.57 L381.88,60.08 L379.60,61.30Z" fill="url(#s102)"/>
<path d="M397.88,67.03 L400.17,65.81 L383.31,59.35 L381.03,60.53Z" fill="url(#s103)"/>
<path d="M399.31,66.26 L401.61,65.08 L384.74,58.63 L382.45,59.79Z" fill="url(#s104)"/>
<path d="M400.75,65.51 L403.04,64.38 L386.17,57.91 L383.88,59.06Z" fill="url(#s105)"/>
<path d="M402.18,64.80 L404.47,63.70 L387.60,57.20 L385.31,58.34Z" fill="url(#s106)"/>
<path d="M403.61,64.11 L405.90,63.04 L389.03,56.47 L386.74,57.63Z" fill="url(#s107)"/>
<path d="M405.04,63.44 L407.33,62.39 L390.46,55.75 L388.17,56.91Z" fill="url(#s108)"/>
<path d="M406.47,62.78 L408.77,61.75 L391.89,55.01 L389.60,56.18Z" fill="url(#s109)"/>
<path d="M407.91,62.13 L410.20,61.12 L393.32,54.27 L391.03,55.45Z" fill="url(#s110)"/>
<path d="M409.34,61.50 L411.63,60.50 L394.75,53.53 L392.46,54.72Z" fill="url(#s111)"/>
<path d="M410.77,60.87 L413.06,59.90 L396.18,52.80 L393.89,53.98Z" fill="url(#s112)"/>
<path d="M412.20,60.26 L414.49,59.34 L397.61,52.10 L395.32,53.24Z" fill="url(#s113)"/>
<path d="M413.63,59.67 L415.92,58.84 L399.04,51.44 L396.75,52.52Z" fill="url(#s114)"/>
<path d="M415.07,59.13 L417.36,58.40 L400.47,50.86 L398.18,51.83Z" fill="url(#s115)"/>
<path d="M416.50,58.66 L418.79,58.03 L401.89,50.35 L399.61,51.20Z" fill="url(#s116)"/>
<path d="M417.93,58.25 L420.22,57.69 L403.32,49.89 L401.04,50.64Z" fill="url(#s117)"/>
<path d="M419.36,57.89 L421.65,57.37 L404.75,49.48 L402.47,50.16Z" fill="url(#s118)"/>
<path d="M420.79,57.56 L423.08,57.06 L406.18,49.07 L403.90,49.72Z" fill="url(#s119)"/>
<path d="M422.23,57.24 L424.52,56.76 L407.61,48.68 L405.33,49.31Z" fill="url(#s120)"/>
<path d="M423.66,56.94 L425.95,56.47 L409.04,48.30 L406.75,48.92Z" fill="url(#s121)"/>
<path d="M425.09,56.64 L427.38,56.20 L410.47,47.94 L408.18,48.53Z" fill="url(#s122)"/>
<path d="M426.52,56.36 L428.81,55.96 L411.90,47.60 L409.61,48.16Z" fill="url(#s123)"/>
<path d="M427.95,56.10 L430.24,55.74 L413.33,47.27 L411.04,47.80Z" fill="url(#s124)"/>
<path d="M429.38,55.87 L431.68,55.52 L414.76,46.95 L412.47,47.47Z" fill="url(#s125)"/>
<path d="M430.82,55.65 L433.11,55.31 L416.19,46.64 L413.90,47.15Z" fill="url(#s126)"/>
<path d="M432.25,55.44 L434.54,55.09 L417.62,46.32 L415.33,46.83Z" fill="url(#s127)"/>
<path d="M433.68,55.22 L435.97,54.86 L419.05,46.00 L416.76,46.51Z" fill="url(#s128)"/>
<path d="M435.11,55.00 L437.40,54.59 L420.48,45.68 L418.19,46.19Z" fill="url(#s129)"/>
<path d="M436.54,54.76 L438.83,54.29 L421.91,45.36 L419.62,45.88Z" fill="url(#s130)"/>
<path d="M437.98,54.48 L440.27,53.94 L423.34,45.03 L421.05,45.55Z" fill="url(#s131)"/>
<path d="M439.41,54.16 L441.70,53.57 L424.76,44.70 L422.48,45.23Z" fill="url(#s132)"/>
<path d="M440.84,53.80 L443.13,53.18 L426.19,44.37 L423.91,44.90Z" fill="url(#s133)"/>
<path d="M442.27,53.42 L444.56,52.77 L427.62,44.03 L425.34,44.57Z" fill="url(#s134)"/>
<path d="M443.70,53.02 L445.99,52.34 L429.05,43.66 L426.77,44.23Z" fill="url(#s135)"/>
<path d="M445.13,52.60 L447.43,51.90 L430.48,43.28 L428.19,43.88Z" fill="url(#s136)"/>
<path d="M446.57,52.17 L448.86,51.44 L431.91,42.86 L429.62,43.51Z" fill="url(#s137)"/>
<path d="M448.00,51.72 L450.29,50.97 L433.34,42.42 L431.05,43.11Z" fill="url(#s138)"/>
<path d="M449.43,51.25 L451.72,50.48 L434.77,41.97 L432.48,42.69Z" fill="url(#s139)"/>
<path d="M450.86,50.77 L453.15,49.99 L436.20,41.51 L433.91,42.24Z" fill="url(#s140)"/>
<path d="M452.29,50.29 L454.59,49.47 L437.63,41.04 L435.34,41.79Z" fill="url(#s141)"/>
<path d="M453.73,49.79 L456.02,48.94 L439.06,40.56 L436.77,41.33Z" fill="url(#s142)"/>
<path d="M455.16,49.26 L457.45,48.37 L440.49,40.05 L438.20,40.85Z" fill="url(#s143)"/>
<path d="M456.59,48.71 L458.88,47.80 L441.92,39.53 L439.63,40.36Z" fill="url(#s144)"/>
<path d="M458.02,48.14 L460.31,47.21 L443.35,38.98 L441.06,39.85Z" fill="url(#s145)"/>
<path d="M459.45,47.56 L461.74,46.63 L444.78,38.43 L442.49,39.31Z" fill="url(#s146)"/>
<path d="M460.89,46.98 L463.18,46.05 L446.21,37.88 L443.92,38.76Z" fill="url(#s147)"/>
<path d="M462.32,46.40 L464.61,45.48 L447.63,37.32 L445.35,38.21Z" fill="url(#s148)"/>
<path d="M463.75,45.82 L466.04,44.92 L449.06,36.77 L446.78,37.65Z" fill="url(#s149)"/>
<path d="M465.18,45.26 L467.47,44.36 L450.49,36.24 L448.21,37.10Z" fill="url(#s150)"/>
<path d="M466.61,44.70 L468.90,43.81 L451.92,35.72 L449.64,36.56Z" fill="url(#s151)"/>
<path d="M468.05,44.14 L470.34,43.26 L453.35,35.21 L451.06,36.03Z" fill="url(#s152)"/>
<path d="M469.48,43.59 L471.77,42.73 L454.78,34.72 L452.49,35.52Z" fill="url(#s153)"/>
<path d="M470.91,43.05 L473.20,42.21 L456.21,34.23 L453.92,35.02Z" fill="url(#s154)"/>
<path d="M472.34,42.52 L474.63,41.70 L457.64,33.75 L455.35,34.53Z" fill="url(#s155)"/>
<path d="M473.77,42.00 L476.06,41.19 L459.07,33.26 L456.78,34.04Z" fill="url(#s156)"/>
<path d="M475.20,41.49 L477.50,40.70 L460.50,32.78 L458.21,33.55Z" fill="url(#s157)"/>
<path d="M476.64,40.99 L478.93,40.20 L461.93,32.29 L459.64,33.07Z" fill="url(#s158)"/>
<path d="M478.07,40.50 L479.50,40.03 L462.50,32.17 L461.07,32.58Z" fill="url(#s159)"/>
<path d="M240.20,139.20 L494.48,41.40 M240.20,139.20 L221.00,126.30 M221.00,126.30 L221.00,110.10 M240.20,139.20 L246.20,143.10 M282.58,122.90 L288.58,126.80 M324.96,106.60 L330.96,110.50 M367.34,90.30 L373.34,94.20 M409.72,74.00 L415.72,77.90 M452.10,57.70 L458.10,61.60 M494.48,41.40 L500.48,45.30 M240.20,139.20 L234.40,141.40 M233.80,134.90 L228.00,137.10 M227.40,130.60 L221.60,132.80 M221.00,126.30 L214.90,123.00 M221.00,118.20 L214.90,114.90 M221.00,110.10 L214.90,106.80" stroke="#262626" stroke-width="0.6" fill="none"/>
<text x="249.00" y="147.40" font-size="6.7" fill="#262626" stroke="#262626" stroke-width="0.12" text-anchor="middle" dominant-baseline="central">0</text>
<text x="296.60" y="131.00" font-size="6.7" fill="#262626" stroke="#262626" stroke-width="0.12" text-anchor="middle" dominant-baseline="central">1000</text>
<text x="338.70" y="115.10" font-size="6.7" fill="#262626" stroke="#262626" stroke-width="0.12" text-anchor="middle" dominant-baseline="central">2000</text>
<text x="381.50" y="98.50" font-size="6.7" fill="#262626" stroke="#262626" stroke-width="0.12" text-anchor="middle" dominant-baseline="central">3000</text>
<text x="423.50" y="82.00" font-size="6.7" fill="#262626" stroke="#262626" stroke-width="0.12" text-anchor="middle" dominant-baseline="central">4000</text>
<text x="466.00" y="66.00" font-size="6.7" fill="#262626" stroke="#262626" stroke-width="0.12" text-anchor="middle" dominant-baseline="central">5000</text>
<text x="507.80" y="49.40" font-size="6.7" fill="#262626" stroke="#262626" stroke-width="0.12" text-anchor="middle" dominant-baseline="central">6000</text>
<text x="213.40" y="137.30" font-size="6.7" fill="#262626" stroke="#262626" stroke-width="0.12" text-anchor="middle" dominant-baseline="central">300</text>
<text x="220.70" y="141.40" font-size="6.7" fill="#262626" stroke="#262626" stroke-width="0.12" text-anchor="middle" dominant-baseline="central">250</text>
<text x="227.30" y="145.50" font-size="6.7" fill="#262626" stroke="#262626" stroke-width="0.12" text-anchor="middle" dominant-baseline="central">200</text>
<text x="214.00" y="105.80" font-size="6.7" fill="#262626" stroke="#262626" stroke-width="0.12" text-anchor="end" dominant-baseline="central">150</text>
<text x="214.00" y="113.90" font-size="6.7" fill="#262626" stroke="#262626" stroke-width="0.12" text-anchor="end" dominant-baseline="central">100</text>
<text x="214.00" y="122.00" font-size="6.7" fill="#262626" stroke="#262626" stroke-width="0.12" text-anchor="end" dominant-baseline="central">50</text>
<text x="362.80" y="21.00" font-size="6.8" fill="#000" stroke="#000" stroke-width="0.12" text-anchor="middle" dominant-baseline="central">Space form of scraper conveyor</text>
<text x="394.50" y="115.80" font-size="6.9" fill="#262626" stroke="#262626" stroke-width="0.12" text-anchor="middle" dominant-baseline="central" transform="rotate(-20.8 394.5 115.8)">Running direction of Shearer</text>
<text x="189.50" y="112.50" font-size="6.9" fill="#262626" stroke="#262626" stroke-width="0.12" text-anchor="middle" dominant-baseline="central" transform="rotate(-90 189.5 112.5)">Vertical</text>
<text x="197.20" y="112.00" font-size="6.9" fill="#262626" stroke="#262626" stroke-width="0.12" text-anchor="middle" dominant-baseline="central" transform="rotate(-90 197.2 112)">direction</text>
<text x="211.50" y="155.00" font-size="6.9" fill="#262626" stroke="#262626" stroke-width="0.12" text-anchor="middle" dominant-baseline="central" transform="rotate(31 211.5 155)">Advancing direction</text>
<text x="208.00" y="161.00" font-size="6.9" fill="#262626" stroke="#262626" stroke-width="0.12" text-anchor="middle" dominant-baseline="central" transform="rotate(31 208 161)">of working face</text>
<defs><linearGradient id="cb" x1="0" y1="1" x2="0" y2="0">
<stop offset="0.00" stop-color="#3e26a8"/>
<stop offset="0.05" stop-color="#4433cc"/>
<stop offset="0.10" stop-color="#4743e7"/>
<stop offset="0.15" stop-color="#4855f6"/>
<stop offset="0.20" stop-color="#4367fd"/>
<stop offset="0.25" stop-color="#347afd"/>
<stop offset="0.30" stop-color="#2d8cf3"/>
<stop offset="0.35" stop-color="#259ce7"/>
<stop offset="0.40" stop-color="#1caadf"/>
<stop offset="0.45" stop-color="#04b6ce"/>
<stop offset="0.50" stop-color="#12beb9"/>
<stop offset="0.55" stop-color="#30c5a2"/>
<stop offset="0.60" stop-color="#48cb86"/>
<stop offset="0.65" stop-color="#71cd64"/>
<stop offset="0.70" stop-color="#9fc942"/>
<stop offset="0.75" stop-color="#c8c129"/>
<stop offset="0.80" stop-color="#eaba30"/>
<stop offset="0.85" stop-color="#fec13a"/>
<stop offset="0.90" stop-color="#fad42e"/>
<stop offset="0.95" stop-color="#f5e825"/>
<stop offset="1.00" stop-color="#f9fb15"/>
</linearGradient></defs>
<rect x="518" y="10.2" width="5" height="108.4" fill="url(#cb)"/>
<line x1="522" y1="115.09" x2="523" y2="115.09" stroke="#333" stroke-width="0.5"/>
<text x="526.00" y="115.09" font-size="6.6" fill="#262626" stroke="#262626" stroke-width="0.12" text-anchor="start" dominant-baseline="central">60</text>
<line x1="522" y1="89.99" x2="523" y2="89.99" stroke="#333" stroke-width="0.5"/>
<text x="526.00" y="89.99" font-size="6.6" fill="#262626" stroke="#262626" stroke-width="0.12" text-anchor="start" dominant-baseline="central">80</text>
<line x1="522" y1="64.90" x2="523" y2="64.90" stroke="#333" stroke-width="0.5"/>
<text x="526.00" y="64.90" font-size="6.6" fill="#262626" stroke="#262626" stroke-width="0.12" text-anchor="start" dominant-baseline="central">100</text>
<line x1="522" y1="39.81" x2="523" y2="39.81" stroke="#333" stroke-width="0.5"/>
<text x="526.00" y="39.81" font-size="6.6" fill="#262626" stroke="#262626" stroke-width="0.12" text-anchor="start" dominant-baseline="central">120</text>
<line x1="522" y1="14.72" x2="523" y2="14.72" stroke="#333" stroke-width="0.5"/>
<text x="526.00" y="14.72" font-size="6.6" fill="#262626" stroke="#262626" stroke-width="0.12" text-anchor="start" dominant-baseline="central">140</text>
<path d="M72.77,199.50 V339.50 M114.33,199.50 V339.50 M155.90,199.50 V339.50 M197.47,199.50 V339.50 M239.03,199.50 V339.50 M31.20,322.00 H280.60 M31.20,304.50 H280.60 M31.20,287.00 H280.60 M31.20,269.50 H280.60 M31.20,252.00 H280.60 M31.20,234.50 H280.60 M31.20,217.00 H280.60 " stroke="#7a7a7a" stroke-width="0.75" stroke-dasharray="0.8 1.4" fill="none"/>
<ellipse cx="43.2" cy="295.9" rx="4.4" ry="6.5" fill="#f3c99c" opacity="0.85"/>
<ellipse cx="118.6" cy="220.5" rx="6.4" ry="12.8" fill="#f2ec55" opacity="0.8"/>
<ellipse cx="217.5" cy="252.3" rx="7" ry="16.4" fill="#e23ee0" opacity="0.75"/>
<ellipse cx="243.5" cy="298.3" rx="5" ry="10" fill="#f2ec55" opacity="0.8"/>
<polyline points="43.67,295.75 68.61,313.25 93.55,294.00 118.49,230.56 143.43,218.31 168.37,225.75 193.31,232.31 218.25,240.62 243.19,303.36 268.13,259.17" fill="none" stroke="#ff2020" stroke-width="1.1"/>
<circle cx="43.67" cy="295.75" r="1.9" fill="#ff2020"/>
<circle cx="44.17" cy="295.25" r="0.55" fill="#fff" opacity="0.55"/>
<circle cx="68.61" cy="313.25" r="1.9" fill="#ff2020"/>
<circle cx="69.11" cy="312.75" r="0.55" fill="#fff" opacity="0.55"/>
<circle cx="93.55" cy="294.00" r="1.9" fill="#ff2020"/>
<circle cx="94.05" cy="293.50" r="0.55" fill="#fff" opacity="0.55"/>
<circle cx="118.49" cy="230.56" r="1.9" fill="#ff2020"/>
<circle cx="118.99" cy="230.06" r="0.55" fill="#fff" opacity="0.55"/>
<circle cx="143.43" cy="218.31" r="1.9" fill="#ff2020"/>
<circle cx="143.93" cy="217.81" r="0.55" fill="#fff" opacity="0.55"/>
<circle cx="168.37" cy="225.75" r="1.9" fill="#ff2020"/>
<circle cx="168.87" cy="225.25" r="0.55" fill="#fff" opacity="0.55"/>
<circle cx="193.31" cy="232.31" r="1.9" fill="#ff2020"/>
<circle cx="193.81" cy="231.81" r="0.55" fill="#fff" opacity="0.55"/>
<circle cx="218.25" cy="240.62" r="1.9" fill="#ff2020"/>
<circle cx="218.75" cy="240.12" r="0.55" fill="#fff" opacity="0.55"/>
<circle cx="243.19" cy="303.36" r="1.9" fill="#ff2020"/>
<circle cx="243.69" cy="302.86" r="0.55" fill="#fff" opacity="0.55"/>
<circle cx="268.13" cy="259.17" r="1.9" fill="#ff2020"/>
<circle cx="268.63" cy="258.67" r="0.55" fill="#fff" opacity="0.55"/>
<polyline points="43.67,295.75 68.61,329.00 93.55,299.86 118.49,207.38 143.43,230.56 168.37,238.00 193.31,239.93 218.25,264.86 243.19,296.98 268.13,278.78" fill="none" stroke="#2020ff" stroke-width="1.1"/>
<circle cx="43.67" cy="295.75" r="1.9" fill="#2020ff"/>
<circle cx="44.17" cy="295.25" r="0.55" fill="#fff" opacity="0.55"/>
<circle cx="68.61" cy="329.00" r="1.9" fill="#2020ff"/>
<circle cx="69.11" cy="328.50" r="0.55" fill="#fff" opacity="0.55"/>
<circle cx="93.55" cy="299.86" r="1.9" fill="#2020ff"/>
<circle cx="94.05" cy="299.36" r="0.55" fill="#fff" opacity="0.55"/>
<circle cx="118.49" cy="207.38" r="1.9" fill="#2020ff"/>
<circle cx="118.99" cy="206.88" r="0.55" fill="#fff" opacity="0.55"/>
<circle cx="143.43" cy="230.56" r="1.9" fill="#2020ff"/>
<circle cx="143.93" cy="230.06" r="0.55" fill="#fff" opacity="0.55"/>
<circle cx="168.37" cy="238.00" r="1.9" fill="#2020ff"/>
<circle cx="168.87" cy="237.50" r="0.55" fill="#fff" opacity="0.55"/>
<circle cx="193.31" cy="239.93" r="1.9" fill="#2020ff"/>
<circle cx="193.81" cy="239.43" r="0.55" fill="#fff" opacity="0.55"/>
<circle cx="218.25" cy="264.86" r="1.9" fill="#2020ff"/>
<circle cx="218.75" cy="264.36" r="0.55" fill="#fff" opacity="0.55"/>
<circle cx="243.19" cy="296.98" r="1.9" fill="#2020ff"/>
<circle cx="243.69" cy="296.48" r="0.55" fill="#fff" opacity="0.55"/>
<circle cx="268.13" cy="278.78" r="1.9" fill="#2020ff"/>
<circle cx="268.63" cy="278.28" r="0.55" fill="#fff" opacity="0.55"/>
<rect x="31.2" y="199.5" width="249.40000000000003" height="140.0" fill="none" stroke="#2a2a2a" stroke-width="1.35"/>
<path d="M31.20,339.50 V336.10 M72.77,339.50 V336.10 M114.33,339.50 V336.10 M155.90,339.50 V336.10 M197.47,339.50 V336.10 M239.03,339.50 V336.10 M280.60,339.50 V336.10 M31.20,339.50 H34.20 M31.20,322.00 H34.20 M31.20,304.50 H34.20 M31.20,287.00 H34.20 M31.20,269.50 H34.20 M31.20,252.00 H34.20 M31.20,234.50 H34.20 M31.20,217.00 H34.20 M31.20,199.50 H34.20 " stroke="#2a2a2a" stroke-width="1.2" fill="none"/>
<path d="M51.98,339.50 V337.50 M93.55,339.50 V337.50 M135.12,339.50 V337.50 M176.68,339.50 V337.50 M218.25,339.50 V337.50 M259.82,339.50 V337.50 M31.20,330.75 H33.20 M31.20,313.25 H33.20 M31.20,295.75 H33.20 M31.20,278.25 H33.20 M31.20,260.75 H33.20 M31.20,243.25 H33.20 M31.20,225.75 H33.20 M31.20,208.25 H33.20 " stroke="#2a2a2a" stroke-width="1.0" fill="none"/>
<text x="31.20" y="346.90" font-size="7.2" fill="#222" stroke="#222" stroke-width="0.12" text-anchor="middle" dominant-baseline="central">0</text>
<text x="72.77" y="346.90" font-size="7.2" fill="#222" stroke="#222" stroke-width="0.12" text-anchor="middle" dominant-baseline="central">1000</text>
<text x="114.33" y="346.90" font-size="7.2" fill="#222" stroke="#222" stroke-width="0.12" text-anchor="middle" dominant-baseline="central">2000</text>
<text x="155.90" y="346.90" font-size="7.2" fill="#222" stroke="#222" stroke-width="0.12" text-anchor="middle" dominant-baseline="central">3000</text>
<text x="197.47" y="346.90" font-size="7.2" fill="#222" stroke="#222" stroke-width="0.12" text-anchor="middle" dominant-baseline="central">4000</text>
<text x="239.03" y="346.90" font-size="7.2" fill="#222" stroke="#222" stroke-width="0.12" text-anchor="middle" dominant-baseline="central">5000</text>
<text x="280.60" y="346.90" font-size="7.2" fill="#222" stroke="#222" stroke-width="0.12" text-anchor="middle" dominant-baseline="central">6000</text>
<text x="27.70" y="339.50" font-size="7.2" fill="#222" stroke="#222" stroke-width="0.12" text-anchor="end" dominant-baseline="central">200</text>
<text x="27.70" y="322.00" font-size="7.2" fill="#222" stroke="#222" stroke-width="0.12" text-anchor="end" dominant-baseline="central">220</text>
<text x="27.70" y="304.50" font-size="7.2" fill="#222" stroke="#222" stroke-width="0.12" text-anchor="end" dominant-baseline="central">240</text>
<text x="27.70" y="287.00" font-size="7.2" fill="#222" stroke="#222" stroke-width="0.12" text-anchor="end" dominant-baseline="central">260</text>
<text x="27.70" y="269.50" font-size="7.2" fill="#222" stroke="#222" stroke-width="0.12" text-anchor="end" dominant-baseline="central">280</text>
<text x="27.70" y="252.00" font-size="7.2" fill="#222" stroke="#222" stroke-width="0.12" text-anchor="end" dominant-baseline="central">300</text>
<text x="27.70" y="234.50" font-size="7.2" fill="#222" stroke="#222" stroke-width="0.12" text-anchor="end" dominant-baseline="central">320</text>
<text x="27.70" y="217.00" font-size="7.2" fill="#222" stroke="#222" stroke-width="0.12" text-anchor="end" dominant-baseline="central">340</text>
<text x="27.70" y="199.50" font-size="7.2" fill="#222" stroke="#222" stroke-width="0.12" text-anchor="end" dominant-baseline="central">360</text>
<text x="155.70" y="359.50" font-size="7.4" fill="#111" stroke="#111" stroke-width="0.12" text-anchor="middle" dominant-baseline="central">Operation direction of shearer(mm)</text>
<text x="10.90" y="268.20" font-size="7.42" fill="#111" stroke="#111" stroke-width="0.12" text-anchor="middle" dominant-baseline="central" transform="rotate(-90 10.9 268.2)">Horizontal straightness of scraper conveyor(mm)</text>
<text x="64.60" y="284.10" font-size="6.5" fill="#ff2020" stroke="#ff2020" stroke-width="0.12" text-anchor="middle" dominant-baseline="central">Minimum error point</text>
<text x="118.40" y="202.70" font-size="6.5" fill="#ff2020" stroke="#ff2020" stroke-width="0.12" text-anchor="middle" dominant-baseline="central">abnormal points</text>
<text x="232.00" y="230.50" font-size="6.5" fill="#ff2020" stroke="#ff2020" stroke-width="0.12" text-anchor="middle" dominant-baseline="central">Maximum error point</text>
<text x="239.00" y="313.80" font-size="6.5" fill="#ff2020" stroke="#ff2020" stroke-width="0.12" text-anchor="middle" dominant-baseline="central">abnormal points</text>
<rect x="168.2" y="202.1" width="110.0" height="17.099999999999994" fill="#fff" stroke="#666" stroke-width="0.8"/>
<line x1="169.0" y1="206.8" x2="183.4" y2="206.8" stroke="#ff2020" stroke-width="1"/>
<circle cx="176.20" cy="206.8" r="1.8" fill="#ff2020"/>
<text x="185.60" y="206.80" font-size="6.5" fill="#111" stroke="#111" stroke-width="0.12" text-anchor="start" dominant-baseline="central">Measurement by visual technology</text>
<line x1="169.0" y1="214.8" x2="183.4" y2="214.8" stroke="#2020ff" stroke-width="1"/>
<circle cx="176.20" cy="214.8" r="1.8" fill="#2020ff"/>
<text x="185.60" y="214.80" font-size="6.5" fill="#111" stroke="#111" stroke-width="0.12" text-anchor="start" dominant-baseline="central">Measurement by manual</text>
<path d="M351.63,198.30 V339.40 M388.57,198.30 V339.40 M425.50,198.30 V339.40 M462.43,198.30 V339.40 M499.37,198.30 V339.40 M314.70,321.76 H536.30 M314.70,304.12 H536.30 M314.70,286.49 H536.30 M314.70,268.85 H536.30 M314.70,251.21 H536.30 M314.70,233.57 H536.30 M314.70,215.94 H536.30 " stroke="#7a7a7a" stroke-width="0.75" stroke-dasharray="0.8 1.4" fill="none"/>
<ellipse cx="325.4" cy="332.1" rx="3.4" ry="5.2" fill="#f3c99c" opacity="0.85"/>
<ellipse cx="468.5" cy="290.8" rx="23" ry="33.2" fill="#f2ec55" opacity="0.8"/>
<ellipse cx="481.2" cy="303.5" rx="6.6" ry="19.7" fill="#e23ee0" opacity="0.75"/>
<ellipse cx="525" cy="319" rx="6.6" ry="15.5" fill="#f2ec55" opacity="0.8"/>
<polyline points="325.78,333.05 347.94,290.37 370.10,218.58 392.26,249.45 414.42,321.23 436.58,321.23 458.74,287.55 480.90,288.96 503.06,321.41 525.22,329.17" fill="none" stroke="#ff2020" stroke-width="1.1"/>
<circle cx="325.78" cy="333.05" r="1.9" fill="#ff2020"/>
<circle cx="326.28" cy="332.55" r="0.55" fill="#fff" opacity="0.55"/>
<circle cx="347.94" cy="290.37" r="1.9" fill="#ff2020"/>
<circle cx="348.44" cy="289.87" r="0.55" fill="#fff" opacity="0.55"/>
<circle cx="370.10" cy="218.58" r="1.9" fill="#ff2020"/>
<circle cx="370.60" cy="218.08" r="0.55" fill="#fff" opacity="0.55"/>
<circle cx="392.26" cy="249.45" r="1.9" fill="#ff2020"/>
<circle cx="392.76" cy="248.95" r="0.55" fill="#fff" opacity="0.55"/>
<circle cx="414.42" cy="321.23" r="1.9" fill="#ff2020"/>
<circle cx="414.92" cy="320.73" r="0.55" fill="#fff" opacity="0.55"/>
<circle cx="436.58" cy="321.23" r="1.9" fill="#ff2020"/>
<circle cx="437.08" cy="320.73" r="0.55" fill="#fff" opacity="0.55"/>
<circle cx="458.74" cy="287.55" r="1.9" fill="#ff2020"/>
<circle cx="459.24" cy="287.05" r="0.55" fill="#fff" opacity="0.55"/>
<circle cx="480.90" cy="288.96" r="1.9" fill="#ff2020"/>
<circle cx="481.40" cy="288.46" r="0.55" fill="#fff" opacity="0.55"/>
<circle cx="503.06" cy="321.41" r="1.9" fill="#ff2020"/>
<circle cx="503.56" cy="320.91" r="0.55" fill="#fff" opacity="0.55"/>
<circle cx="525.22" cy="329.17" r="1.9" fill="#ff2020"/>
<circle cx="525.72" cy="328.67" r="0.55" fill="#fff" opacity="0.55"/>
<polyline points="325.78,333.05 347.94,287.02 370.10,205.18 392.26,226.52 414.42,325.64 436.58,331.11 458.74,264.09 480.90,317.00 503.06,329.17 525.22,308.01" fill="none" stroke="#2020ff" stroke-width="1.1"/>
<circle cx="325.78" cy="333.05" r="1.9" fill="#2020ff"/>
<circle cx="326.28" cy="332.55" r="0.55" fill="#fff" opacity="0.55"/>
<circle cx="347.94" cy="287.02" r="1.9" fill="#2020ff"/>
<circle cx="348.44" cy="286.52" r="0.55" fill="#fff" opacity="0.55"/>
<circle cx="370.10" cy="205.18" r="1.9" fill="#2020ff"/>
<circle cx="370.60" cy="204.68" r="0.55" fill="#fff" opacity="0.55"/>
<circle cx="392.26" cy="226.52" r="1.9" fill="#2020ff"/>
<circle cx="392.76" cy="226.02" r="0.55" fill="#fff" opacity="0.55"/>
<circle cx="414.42" cy="325.64" r="1.9" fill="#2020ff"/>
<circle cx="414.92" cy="325.14" r="0.55" fill="#fff" opacity="0.55"/>
<circle cx="436.58" cy="331.11" r="1.9" fill="#2020ff"/>
<circle cx="437.08" cy="330.61" r="0.55" fill="#fff" opacity="0.55"/>
<circle cx="458.74" cy="264.09" r="1.9" fill="#2020ff"/>
<circle cx="459.24" cy="263.59" r="0.55" fill="#fff" opacity="0.55"/>
<circle cx="480.90" cy="317.00" r="1.9" fill="#2020ff"/>
<circle cx="481.40" cy="316.50" r="0.55" fill="#fff" opacity="0.55"/>
<circle cx="503.06" cy="329.17" r="1.9" fill="#2020ff"/>
<circle cx="503.56" cy="328.67" r="0.55" fill="#fff" opacity="0.55"/>
<circle cx="525.22" cy="308.01" r="1.9" fill="#2020ff"/>
<circle cx="525.72" cy="307.51" r="0.55" fill="#fff" opacity="0.55"/>
<rect x="314.7" y="198.3" width="221.59999999999997" height="141.09999999999997" fill="none" stroke="#2a2a2a" stroke-width="1.35"/>
<path d="M314.70,339.40 V336.00 M351.63,339.40 V336.00 M388.57,339.40 V336.00 M425.50,339.40 V336.00 M462.43,339.40 V336.00 M499.37,339.40 V336.00 M536.30,339.40 V336.00 M314.70,339.40 H317.70 M314.70,321.76 H317.70 M314.70,304.12 H317.70 M314.70,286.49 H317.70 M314.70,268.85 H317.70 M314.70,251.21 H317.70 M314.70,233.57 H317.70 M314.70,215.94 H317.70 M314.70,198.30 H317.70 " stroke="#2a2a2a" stroke-width="1.2" fill="none"/>
<path d="M333.17,339.40 V337.40 M370.10,339.40 V337.40 M407.03,339.40 V337.40 M443.97,339.40 V337.40 M480.90,339.40 V337.40 M517.83,339.40 V337.40 M314.70,330.58 H316.70 M314.70,312.94 H316.70 M314.70,295.31 H316.70 M314.70,277.67 H316.70 M314.70,260.03 H316.70 M314.70,242.39 H316.70 M314.70,224.76 H316.70 M314.70,207.12 H316.70 " stroke="#2a2a2a" stroke-width="1.0" fill="none"/>
<text x="314.70" y="346.90" font-size="7.2" fill="#222" stroke="#222" stroke-width="0.12" text-anchor="middle" dominant-baseline="central">0</text>
<text x="351.63" y="346.90" font-size="7.2" fill="#222" stroke="#222" stroke-width="0.12" text-anchor="middle" dominant-baseline="central">1000</text>
<text x="388.57" y="346.90" font-size="7.2" fill="#222" stroke="#222" stroke-width="0.12" text-anchor="middle" dominant-baseline="central">2000</text>
<text x="425.50" y="346.90" font-size="7.2" fill="#222" stroke="#222" stroke-width="0.12" text-anchor="middle" dominant-baseline="central">3000</text>
<text x="462.43" y="346.90" font-size="7.2" fill="#222" stroke="#222" stroke-width="0.12" text-anchor="middle" dominant-baseline="central">4000</text>
<text x="499.37" y="346.90" font-size="7.2" fill="#222" stroke="#222" stroke-width="0.12" text-anchor="middle" dominant-baseline="central">5000</text>
<text x="536.30" y="346.90" font-size="7.2" fill="#222" stroke="#222" stroke-width="0.12" text-anchor="middle" dominant-baseline="central">6000</text>
<text x="311.20" y="339.40" font-size="7.2" fill="#222" stroke="#222" stroke-width="0.12" text-anchor="end" dominant-baseline="central">60</text>
<text x="311.20" y="321.76" font-size="7.2" fill="#222" stroke="#222" stroke-width="0.12" text-anchor="end" dominant-baseline="central">70</text>
<text x="311.20" y="304.12" font-size="7.2" fill="#222" stroke="#222" stroke-width="0.12" text-anchor="end" dominant-baseline="central">80</text>
<text x="311.20" y="286.49" font-size="7.2" fill="#222" stroke="#222" stroke-width="0.12" text-anchor="end" dominant-baseline="central">90</text>
<text x="311.20" y="268.85" font-size="7.2" fill="#222" stroke="#222" stroke-width="0.12" text-anchor="end" dominant-baseline="central">100</text>
<text x="311.20" y="251.21" font-size="7.2" fill="#222" stroke="#222" stroke-width="0.12" text-anchor="end" dominant-baseline="central">110</text>
<text x="311.20" y="233.57" font-size="7.2" fill="#222" stroke="#222" stroke-width="0.12" text-anchor="end" dominant-baseline="central">120</text>
<text x="311.20" y="215.94" font-size="7.2" fill="#222" stroke="#222" stroke-width="0.12" text-anchor="end" dominant-baseline="central">130</text>
<text x="311.20" y="198.30" font-size="7.2" fill="#222" stroke="#222" stroke-width="0.12" text-anchor="end" dominant-baseline="central">140</text>
<text x="425.50" y="360.30" font-size="7.4" fill="#111" stroke="#111" stroke-width="0.12" text-anchor="middle" dominant-baseline="central">Operation direction of shearer(mm)</text>
<text x="294.60" y="269.70" font-size="7.5" fill="#111" stroke="#111" stroke-width="0.12" text-anchor="middle" dominant-baseline="central" transform="rotate(-90 294.6 269.7)">Vertical straightness of scraper conveyor(mm)</text>
<text x="358.50" y="332.00" font-size="6.5" fill="#ff2020" stroke="#ff2020" stroke-width="0.12" text-anchor="middle" dominant-baseline="central">Minimum error point</text>
<text x="465.70" y="254.10" font-size="6.5" fill="#ff2020" stroke="#ff2020" stroke-width="0.12" text-anchor="middle" dominant-baseline="central">abnormal points</text>
<text x="495.90" y="280.30" font-size="6.5" fill="#ff2020" stroke="#ff2020" stroke-width="0.12" text-anchor="middle" dominant-baseline="central">Maximum error point</text>
<text x="514.50" y="334.50" font-size="6.5" fill="#ff2020" stroke="#ff2020" stroke-width="0.12" text-anchor="middle" dominant-baseline="central">abnormal points</text>
<rect x="408.2" y="201" width="126.40000000000003" height="19.599999999999994" fill="#fff" stroke="#666" stroke-width="0.8"/>
<line x1="409.0" y1="206.4" x2="426.7" y2="206.4" stroke="#ff2020" stroke-width="1"/>
<circle cx="417.85" cy="206.4" r="1.8" fill="#ff2020"/>
<text x="428.60" y="206.80" font-size="7.3" fill="#111" stroke="#111" stroke-width="0.12" text-anchor="start" dominant-baseline="central">Measurement by visual technology</text>
<line x1="409.0" y1="215.5" x2="426.7" y2="215.5" stroke="#2020ff" stroke-width="1"/>
<circle cx="417.85" cy="215.5" r="1.8" fill="#2020ff"/>
<text x="428.60" y="215.90" font-size="7.3" fill="#111" stroke="#111" stroke-width="0.12" text-anchor="start" dominant-baseline="central">Measurement by manual</text>
<polygon points="172.3,57.7 185.2,57.7 185.2,46.5 198,69 185.2,90.8 185.2,79.5 172.3,79.5" fill="#ff0000"/>
<polygon points="351.1,164.4 374,164.4 374,176.9 384.9,176.9 362.6,190 340.1,176.9 351.1,176.9" fill="#ff0000"/>
<line x1="4.6" y1="192.9" x2="544" y2="192.9" stroke="#1e1e1e" stroke-width="1.4" stroke-dasharray="4.1 4"/>
<rect x="4.0" y="4.7" width="540.8" height="360.8" fill="none" stroke="#1a1a1a" stroke-width="1.5"/>
</g>
</svg></body></html>
